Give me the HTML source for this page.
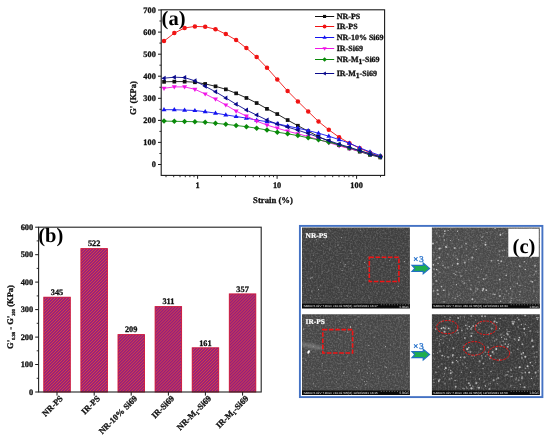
<!DOCTYPE html>
<html><head><meta charset="utf-8"><title>Figure</title>
<style>
html,body{margin:0;padding:0;background:#fff;}
body{width:550px;height:438px;overflow:hidden;}
svg{display:block;}
text{font-family:"Liberation Serif","Times New Roman",serif;font-weight:bold;fill:#111;stroke:#111;stroke-width:0.3px;text-rendering:geometricPrecision;}
.t8{font-size:8px;}
.lab{font-size:20.5px;fill:#000;stroke:none;}
</style></head><body>
<svg width="550" height="438" viewBox="0 0 550 438">
<defs>
<pattern id="hatch" width="1.5" height="1.5" patternUnits="userSpaceOnUse" patternTransform="rotate(-45)">
<rect width="1.5" height="0.75" fill="#8a00a8"/><rect y="0.75" width="1.5" height="0.75" fill="#f0452c"/>
</pattern>
<filter id="grain" x="0" y="0" width="100%" height="100%" color-interpolation-filters="sRGB">
<feTurbulence type="fractalNoise" baseFrequency="0.6" numOctaves="2" seed="3"/>
<feColorMatrix type="matrix" values="0.3 0 0 0 -0.12  0.3 0 0 0 -0.12  0.3 0 0 0 -0.12  0 0 0 0 1"/>
<feGaussianBlur stdDeviation="0.5"/>
<feComposite in2="SourceGraphic" operator="arithmetic" k1="0" k2="1" k3="1" k4="0"/>
</filter>
<filter id="soft" x="-5%" y="-5%" width="110%" height="110%"><feGaussianBlur stdDeviation="0.4"/></filter>
<filter id="soft2" x="-30%" y="-100%" width="160%" height="300%"><feGaussianBlur stdDeviation="1.3"/></filter>
</defs>
<rect width="550" height="438" fill="#fff"/>

<g id="chartA">
<rect x="161.2" y="9.8" width="223.4" height="165.6" fill="none" stroke="#1a1a1a" stroke-width="1.1"/>
<line x1="158.0" x2="161.2" y1="164.5" y2="164.5" stroke="#1a1a1a" stroke-width="1"/>
<text x="155.8" y="167.3" text-anchor="end" style="font-size:8.3px">0</text>
<line x1="159.39999999999998" x2="161.2" y1="153.5" y2="153.5" stroke="#1a1a1a" stroke-width="0.9"/>
<line x1="158.0" x2="161.2" y1="142.4" y2="142.4" stroke="#1a1a1a" stroke-width="1"/>
<text x="155.8" y="145.2" text-anchor="end" style="font-size:8.3px">100</text>
<line x1="159.39999999999998" x2="161.2" y1="131.4" y2="131.4" stroke="#1a1a1a" stroke-width="0.9"/>
<line x1="158.0" x2="161.2" y1="120.4" y2="120.4" stroke="#1a1a1a" stroke-width="1"/>
<text x="155.8" y="123.2" text-anchor="end" style="font-size:8.3px">200</text>
<line x1="159.39999999999998" x2="161.2" y1="109.3" y2="109.3" stroke="#1a1a1a" stroke-width="0.9"/>
<line x1="158.0" x2="161.2" y1="98.3" y2="98.3" stroke="#1a1a1a" stroke-width="1"/>
<text x="155.8" y="101.1" text-anchor="end" style="font-size:8.3px">300</text>
<line x1="159.39999999999998" x2="161.2" y1="87.3" y2="87.3" stroke="#1a1a1a" stroke-width="0.9"/>
<line x1="158.0" x2="161.2" y1="76.2" y2="76.2" stroke="#1a1a1a" stroke-width="1"/>
<text x="155.8" y="79.0" text-anchor="end" style="font-size:8.3px">400</text>
<line x1="159.39999999999998" x2="161.2" y1="65.2" y2="65.2" stroke="#1a1a1a" stroke-width="0.9"/>
<line x1="158.0" x2="161.2" y1="54.2" y2="54.2" stroke="#1a1a1a" stroke-width="1"/>
<text x="155.8" y="57.0" text-anchor="end" style="font-size:8.3px">500</text>
<line x1="159.39999999999998" x2="161.2" y1="43.1" y2="43.1" stroke="#1a1a1a" stroke-width="0.9"/>
<line x1="158.0" x2="161.2" y1="32.1" y2="32.1" stroke="#1a1a1a" stroke-width="1"/>
<text x="155.8" y="34.9" text-anchor="end" style="font-size:8.3px">600</text>
<line x1="159.39999999999998" x2="161.2" y1="21.0" y2="21.0" stroke="#1a1a1a" stroke-width="0.9"/>
<line x1="158.0" x2="161.2" y1="10.0" y2="10.0" stroke="#1a1a1a" stroke-width="1"/>
<text x="155.8" y="12.8" text-anchor="end" style="font-size:8.3px">700</text>
<line x1="166.0" x2="166.0" y1="175.4" y2="177.20000000000002" stroke="#1a1a1a" stroke-width="0.9"/>
<line x1="173.7" x2="173.7" y1="175.4" y2="177.20000000000002" stroke="#1a1a1a" stroke-width="0.9"/>
<line x1="180.0" x2="180.0" y1="175.4" y2="177.20000000000002" stroke="#1a1a1a" stroke-width="0.9"/>
<line x1="185.3" x2="185.3" y1="175.4" y2="177.20000000000002" stroke="#1a1a1a" stroke-width="0.9"/>
<line x1="189.9" x2="189.9" y1="175.4" y2="177.20000000000002" stroke="#1a1a1a" stroke-width="0.9"/>
<line x1="194.0" x2="194.0" y1="175.4" y2="177.20000000000002" stroke="#1a1a1a" stroke-width="0.9"/>
<line x1="197.6" x2="197.6" y1="175.4" y2="178.8" stroke="#1a1a1a" stroke-width="1"/>
<text x="197.6" y="188.0" text-anchor="middle" style="font-size:8.3px">1</text>
<line x1="221.5" x2="221.5" y1="175.4" y2="177.20000000000002" stroke="#1a1a1a" stroke-width="0.9"/>
<line x1="235.5" x2="235.5" y1="175.4" y2="177.20000000000002" stroke="#1a1a1a" stroke-width="0.9"/>
<line x1="245.5" x2="245.5" y1="175.4" y2="177.20000000000002" stroke="#1a1a1a" stroke-width="0.9"/>
<line x1="253.2" x2="253.2" y1="175.4" y2="177.20000000000002" stroke="#1a1a1a" stroke-width="0.9"/>
<line x1="259.5" x2="259.5" y1="175.4" y2="177.20000000000002" stroke="#1a1a1a" stroke-width="0.9"/>
<line x1="264.8" x2="264.8" y1="175.4" y2="177.20000000000002" stroke="#1a1a1a" stroke-width="0.9"/>
<line x1="269.4" x2="269.4" y1="175.4" y2="177.20000000000002" stroke="#1a1a1a" stroke-width="0.9"/>
<line x1="273.5" x2="273.5" y1="175.4" y2="177.20000000000002" stroke="#1a1a1a" stroke-width="0.9"/>
<line x1="277.1" x2="277.1" y1="175.4" y2="178.8" stroke="#1a1a1a" stroke-width="1"/>
<text x="277.1" y="188.0" text-anchor="middle" style="font-size:8.3px">10</text>
<line x1="301.0" x2="301.0" y1="175.4" y2="177.20000000000002" stroke="#1a1a1a" stroke-width="0.9"/>
<line x1="315.0" x2="315.0" y1="175.4" y2="177.20000000000002" stroke="#1a1a1a" stroke-width="0.9"/>
<line x1="325.0" x2="325.0" y1="175.4" y2="177.20000000000002" stroke="#1a1a1a" stroke-width="0.9"/>
<line x1="332.7" x2="332.7" y1="175.4" y2="177.20000000000002" stroke="#1a1a1a" stroke-width="0.9"/>
<line x1="339.0" x2="339.0" y1="175.4" y2="177.20000000000002" stroke="#1a1a1a" stroke-width="0.9"/>
<line x1="344.3" x2="344.3" y1="175.4" y2="177.20000000000002" stroke="#1a1a1a" stroke-width="0.9"/>
<line x1="348.9" x2="348.9" y1="175.4" y2="177.20000000000002" stroke="#1a1a1a" stroke-width="0.9"/>
<line x1="353.0" x2="353.0" y1="175.4" y2="177.20000000000002" stroke="#1a1a1a" stroke-width="0.9"/>
<line x1="356.6" x2="356.6" y1="175.4" y2="178.8" stroke="#1a1a1a" stroke-width="1"/>
<text x="356.6" y="188.0" text-anchor="middle" style="font-size:8.3px">100</text>
<line x1="380.5" x2="380.5" y1="175.4" y2="177.20000000000002" stroke="#1a1a1a" stroke-width="0.9"/>
<text x="273" y="202.9" text-anchor="middle" style="font-size:8.7px">Strain (%)</text>
<text transform="translate(136.0,98) rotate(-90)" text-anchor="middle" style="font-size:8.8px">G' (KPa)</text>
<polyline fill="none" stroke="#111" stroke-width="0.9" points="164.0,81.8 174.3,81.6 184.6,81.6 194.9,82.2 205.2,83.9 215.5,86.3 225.8,89.3 236.1,93.3 246.4,97.9 256.7,103.0 267.0,108.8 277.3,114.1 287.6,120.1 297.9,125.7 308.2,131.2 318.5,136.6 328.8,141.2 339.1,145.2 349.4,148.4 359.7,151.6 370.0,154.8 380.3,157.4"/>
<rect x="162.2" y="80.0" width="3.7" height="3.7" fill="#111"/>
<rect x="172.5" y="79.8" width="3.7" height="3.7" fill="#111"/>
<rect x="182.8" y="79.8" width="3.7" height="3.7" fill="#111"/>
<rect x="193.1" y="80.4" width="3.7" height="3.7" fill="#111"/>
<rect x="203.3" y="82.1" width="3.7" height="3.7" fill="#111"/>
<rect x="213.7" y="84.5" width="3.7" height="3.7" fill="#111"/>
<rect x="224.0" y="87.5" width="3.7" height="3.7" fill="#111"/>
<rect x="234.3" y="91.5" width="3.7" height="3.7" fill="#111"/>
<rect x="244.6" y="96.1" width="3.7" height="3.7" fill="#111"/>
<rect x="254.8" y="101.2" width="3.7" height="3.7" fill="#111"/>
<rect x="265.1" y="107.0" width="3.7" height="3.7" fill="#111"/>
<rect x="275.4" y="112.2" width="3.7" height="3.7" fill="#111"/>
<rect x="285.8" y="118.2" width="3.7" height="3.7" fill="#111"/>
<rect x="296.0" y="123.9" width="3.7" height="3.7" fill="#111"/>
<rect x="306.4" y="129.3" width="3.7" height="3.7" fill="#111"/>
<rect x="316.6" y="134.8" width="3.7" height="3.7" fill="#111"/>
<rect x="326.9" y="139.3" width="3.7" height="3.7" fill="#111"/>
<rect x="337.2" y="143.3" width="3.7" height="3.7" fill="#111"/>
<rect x="347.5" y="146.6" width="3.7" height="3.7" fill="#111"/>
<rect x="357.9" y="149.8" width="3.7" height="3.7" fill="#111"/>
<rect x="368.1" y="153.0" width="3.7" height="3.7" fill="#111"/>
<rect x="378.4" y="155.6" width="3.7" height="3.7" fill="#111"/>
<polyline fill="none" stroke="#f01414" stroke-width="0.9" points="164.0,41.1 174.3,33.1 184.6,28.0 194.9,26.4 205.2,26.8 215.5,29.2 225.8,34.1 236.1,40.1 246.4,48.1 256.7,57.1 267.0,67.8 277.3,79.5 287.6,91.0 297.9,101.4 308.2,111.5 318.5,121.5 328.8,129.8 339.1,137.2 349.4,143.2 359.7,148.2 370.0,152.7 380.3,156.5"/>
<circle cx="164.0" cy="41.1" r="2.25" fill="#f01414"/>
<circle cx="174.3" cy="33.1" r="2.25" fill="#f01414"/>
<circle cx="184.6" cy="28.0" r="2.25" fill="#f01414"/>
<circle cx="194.9" cy="26.4" r="2.25" fill="#f01414"/>
<circle cx="205.2" cy="26.8" r="2.25" fill="#f01414"/>
<circle cx="215.5" cy="29.2" r="2.25" fill="#f01414"/>
<circle cx="225.8" cy="34.1" r="2.25" fill="#f01414"/>
<circle cx="236.1" cy="40.1" r="2.25" fill="#f01414"/>
<circle cx="246.4" cy="48.1" r="2.25" fill="#f01414"/>
<circle cx="256.7" cy="57.1" r="2.25" fill="#f01414"/>
<circle cx="267.0" cy="67.8" r="2.25" fill="#f01414"/>
<circle cx="277.3" cy="79.5" r="2.25" fill="#f01414"/>
<circle cx="287.6" cy="91.0" r="2.25" fill="#f01414"/>
<circle cx="297.9" cy="101.4" r="2.25" fill="#f01414"/>
<circle cx="308.2" cy="111.5" r="2.25" fill="#f01414"/>
<circle cx="318.5" cy="121.5" r="2.25" fill="#f01414"/>
<circle cx="328.8" cy="129.8" r="2.25" fill="#f01414"/>
<circle cx="339.1" cy="137.2" r="2.25" fill="#f01414"/>
<circle cx="349.4" cy="143.2" r="2.25" fill="#f01414"/>
<circle cx="359.7" cy="148.2" r="2.25" fill="#f01414"/>
<circle cx="370.0" cy="152.7" r="2.25" fill="#f01414"/>
<circle cx="380.3" cy="156.5" r="2.25" fill="#f01414"/>
<polyline fill="none" stroke="#1414f0" stroke-width="0.9" points="164.0,109.7 174.3,109.7 184.6,110.1 194.9,110.5 205.2,111.7 215.5,113.1 225.8,114.9 236.1,116.5 246.4,118.1 256.7,120.1 267.0,121.7 277.3,123.7 287.6,126.1 297.9,128.2 308.2,130.6 318.5,133.2 328.8,136.2 339.1,139.6 349.4,143.2 359.7,147.8 370.0,151.9 380.3,155.6"/>
<polygon points="164.0,107.1 161.5,111.3 166.5,111.3" fill="#1414f0"/>
<polygon points="174.3,107.1 171.8,111.3 176.8,111.3" fill="#1414f0"/>
<polygon points="184.6,107.5 182.1,111.7 187.1,111.7" fill="#1414f0"/>
<polygon points="194.9,107.9 192.4,112.1 197.4,112.1" fill="#1414f0"/>
<polygon points="205.2,109.1 202.7,113.3 207.7,113.3" fill="#1414f0"/>
<polygon points="215.5,110.5 213.0,114.7 218.0,114.7" fill="#1414f0"/>
<polygon points="225.8,112.3 223.3,116.5 228.3,116.5" fill="#1414f0"/>
<polygon points="236.1,113.9 233.6,118.1 238.6,118.1" fill="#1414f0"/>
<polygon points="246.4,115.5 243.9,119.7 248.9,119.7" fill="#1414f0"/>
<polygon points="256.7,117.5 254.2,121.7 259.2,121.7" fill="#1414f0"/>
<polygon points="267.0,119.1 264.5,123.3 269.5,123.3" fill="#1414f0"/>
<polygon points="277.3,121.1 274.8,125.3 279.8,125.3" fill="#1414f0"/>
<polygon points="287.6,123.5 285.1,127.7 290.1,127.7" fill="#1414f0"/>
<polygon points="297.9,125.6 295.4,129.8 300.4,129.8" fill="#1414f0"/>
<polygon points="308.2,128.0 305.7,132.2 310.7,132.2" fill="#1414f0"/>
<polygon points="318.5,130.6 316.0,134.8 321.0,134.8" fill="#1414f0"/>
<polygon points="328.8,133.6 326.3,137.8 331.3,137.8" fill="#1414f0"/>
<polygon points="339.1,137.0 336.6,141.2 341.6,141.2" fill="#1414f0"/>
<polygon points="349.4,140.6 346.9,144.8 351.9,144.8" fill="#1414f0"/>
<polygon points="359.7,145.2 357.2,149.4 362.2,149.4" fill="#1414f0"/>
<polygon points="370.0,149.3 367.5,153.5 372.5,153.5" fill="#1414f0"/>
<polygon points="380.3,153.0 377.8,157.2 382.8,157.2" fill="#1414f0"/>
<polyline fill="none" stroke="#f014e6" stroke-width="0.9" points="164.0,88.3 174.3,86.9 184.6,86.9 194.9,89.3 205.2,94.0 215.5,99.2 225.8,105.0 236.1,111.1 246.4,116.1 256.7,121.1 267.0,125.1 277.3,128.2 287.6,131.2 297.9,133.8 308.2,136.6 318.5,139.6 328.8,142.6 339.1,145.8 349.4,148.6 359.7,151.2 370.0,153.9 380.3,156.8"/>
<polygon points="164.0,90.9 161.5,86.7 166.5,86.7" fill="#f014e6"/>
<polygon points="174.3,89.5 171.8,85.3 176.8,85.3" fill="#f014e6"/>
<polygon points="184.6,89.5 182.1,85.3 187.1,85.3" fill="#f014e6"/>
<polygon points="194.9,91.9 192.4,87.7 197.4,87.7" fill="#f014e6"/>
<polygon points="205.2,96.6 202.7,92.4 207.7,92.4" fill="#f014e6"/>
<polygon points="215.5,101.8 213.0,97.6 218.0,97.6" fill="#f014e6"/>
<polygon points="225.8,107.6 223.3,103.4 228.3,103.4" fill="#f014e6"/>
<polygon points="236.1,113.7 233.6,109.5 238.6,109.5" fill="#f014e6"/>
<polygon points="246.4,118.7 243.9,114.5 248.9,114.5" fill="#f014e6"/>
<polygon points="256.7,123.7 254.2,119.5 259.2,119.5" fill="#f014e6"/>
<polygon points="267.0,127.7 264.5,123.5 269.5,123.5" fill="#f014e6"/>
<polygon points="277.3,130.8 274.8,126.6 279.8,126.6" fill="#f014e6"/>
<polygon points="287.6,133.8 285.1,129.6 290.1,129.6" fill="#f014e6"/>
<polygon points="297.9,136.4 295.4,132.2 300.4,132.2" fill="#f014e6"/>
<polygon points="308.2,139.2 305.7,135.0 310.7,135.0" fill="#f014e6"/>
<polygon points="318.5,142.2 316.0,138.0 321.0,138.0" fill="#f014e6"/>
<polygon points="328.8,145.2 326.3,141.0 331.3,141.0" fill="#f014e6"/>
<polygon points="339.1,148.4 336.6,144.2 341.6,144.2" fill="#f014e6"/>
<polygon points="349.4,151.2 346.9,147.0 351.9,147.0" fill="#f014e6"/>
<polygon points="359.7,153.8 357.2,149.6 362.2,149.6" fill="#f014e6"/>
<polygon points="370.0,156.5 367.5,152.3 372.5,152.3" fill="#f014e6"/>
<polygon points="380.3,159.4 377.8,155.2 382.8,155.2" fill="#f014e6"/>
<polyline fill="none" stroke="#0a8a0a" stroke-width="0.9" points="164.0,121.1 174.3,121.3 184.6,121.5 194.9,121.7 205.2,122.3 215.5,123.3 225.8,124.3 236.1,125.5 246.4,126.7 256.7,128.2 267.0,130.0 277.3,132.2 287.6,133.8 297.9,135.6 308.2,137.8 318.5,139.8 328.8,142.2 339.1,144.8 349.4,147.8 359.7,150.8 370.0,153.9 380.3,156.8"/>
<polygon points="164.0,118.3 166.8,121.1 164.0,123.8 161.2,121.1" fill="#0a8a0a"/>
<polygon points="174.3,118.5 177.1,121.3 174.3,124.0 171.6,121.3" fill="#0a8a0a"/>
<polygon points="184.6,118.8 187.3,121.5 184.6,124.2 181.8,121.5" fill="#0a8a0a"/>
<polygon points="194.9,119.0 197.7,121.7 194.9,124.5 192.2,121.7" fill="#0a8a0a"/>
<polygon points="205.2,119.5 207.9,122.3 205.2,125.0 202.4,122.3" fill="#0a8a0a"/>
<polygon points="215.5,120.5 218.2,123.3 215.5,126.0 212.8,123.3" fill="#0a8a0a"/>
<polygon points="225.8,121.5 228.6,124.3 225.8,127.0 223.1,124.3" fill="#0a8a0a"/>
<polygon points="236.1,122.8 238.9,125.5 236.1,128.2 233.4,125.5" fill="#0a8a0a"/>
<polygon points="246.4,124.0 249.2,126.7 246.4,129.4 243.7,126.7" fill="#0a8a0a"/>
<polygon points="256.7,125.4 259.4,128.2 256.7,130.9 253.9,128.2" fill="#0a8a0a"/>
<polygon points="267.0,127.2 269.8,130.0 267.0,132.8 264.2,130.0" fill="#0a8a0a"/>
<polygon points="277.3,129.4 280.1,132.2 277.3,134.9 274.6,132.2" fill="#0a8a0a"/>
<polygon points="287.6,131.1 290.4,133.8 287.6,136.6 284.9,133.8" fill="#0a8a0a"/>
<polygon points="297.9,132.8 300.6,135.6 297.9,138.3 295.1,135.6" fill="#0a8a0a"/>
<polygon points="308.2,135.1 311.0,137.8 308.2,140.6 305.5,137.8" fill="#0a8a0a"/>
<polygon points="318.5,137.1 321.2,139.8 318.5,142.6 315.8,139.8" fill="#0a8a0a"/>
<polygon points="328.8,139.4 331.6,142.2 328.8,144.9 326.1,142.2" fill="#0a8a0a"/>
<polygon points="339.1,142.1 341.9,144.8 339.1,147.6 336.4,144.8" fill="#0a8a0a"/>
<polygon points="349.4,145.1 352.1,147.8 349.4,150.6 346.6,147.8" fill="#0a8a0a"/>
<polygon points="359.7,148.1 362.5,150.8 359.7,153.6 357.0,150.8" fill="#0a8a0a"/>
<polygon points="370.0,151.2 372.8,153.9 370.0,156.7 367.2,153.9" fill="#0a8a0a"/>
<polygon points="380.3,154.1 383.1,156.8 380.3,159.6 377.6,156.8" fill="#0a8a0a"/>
<polyline fill="none" stroke="#0a0a8c" stroke-width="0.9" points="164.0,78.2 174.3,77.2 184.6,77.6 194.9,80.8 205.2,86.3 215.5,91.8 225.8,97.9 236.1,104.2 246.4,110.1 256.7,115.1 267.0,120.1 277.3,124.1 287.6,127.1 297.9,130.2 308.2,133.6 318.5,137.2 328.8,140.6 339.1,144.2 349.4,147.2 359.7,150.6 370.0,153.9 380.3,156.8"/>
<polygon points="161.4,78.2 165.6,75.7 165.6,80.7" fill="#0a0a8c"/>
<polygon points="171.7,77.2 175.9,74.7 175.9,79.7" fill="#0a0a8c"/>
<polygon points="182.0,77.6 186.2,75.1 186.2,80.1" fill="#0a0a8c"/>
<polygon points="192.3,80.8 196.5,78.3 196.5,83.3" fill="#0a0a8c"/>
<polygon points="202.6,86.3 206.8,83.8 206.8,88.8" fill="#0a0a8c"/>
<polygon points="212.9,91.8 217.1,89.3 217.1,94.3" fill="#0a0a8c"/>
<polygon points="223.2,97.9 227.4,95.4 227.4,100.4" fill="#0a0a8c"/>
<polygon points="233.5,104.2 237.7,101.7 237.7,106.7" fill="#0a0a8c"/>
<polygon points="243.8,110.1 248.0,107.6 248.0,112.6" fill="#0a0a8c"/>
<polygon points="254.1,115.1 258.3,112.6 258.3,117.6" fill="#0a0a8c"/>
<polygon points="264.4,120.1 268.6,117.6 268.6,122.6" fill="#0a0a8c"/>
<polygon points="274.7,124.1 278.9,121.6 278.9,126.6" fill="#0a0a8c"/>
<polygon points="285.0,127.1 289.2,124.6 289.2,129.6" fill="#0a0a8c"/>
<polygon points="295.3,130.2 299.5,127.7 299.5,132.7" fill="#0a0a8c"/>
<polygon points="305.6,133.6 309.8,131.1 309.8,136.1" fill="#0a0a8c"/>
<polygon points="315.9,137.2 320.1,134.7 320.1,139.7" fill="#0a0a8c"/>
<polygon points="326.2,140.6 330.4,138.1 330.4,143.1" fill="#0a0a8c"/>
<polygon points="336.5,144.2 340.7,141.7 340.7,146.7" fill="#0a0a8c"/>
<polygon points="346.8,147.2 351.0,144.7 351.0,149.7" fill="#0a0a8c"/>
<polygon points="357.1,150.6 361.3,148.1 361.3,153.1" fill="#0a0a8c"/>
<polygon points="367.4,153.9 371.6,151.4 371.6,156.4" fill="#0a0a8c"/>
<polygon points="377.7,156.8 381.9,154.3 381.9,159.3" fill="#0a0a8c"/>
<line x1="315" x2="334.2" y1="16.5" y2="16.5" stroke="#111" stroke-width="1"/>
<rect x="323.0" y="14.9" width="3.1" height="3.1" fill="#111"/>
<text class="t8" x="336.7" y="18.8">NR-PS</text>
<line x1="315" x2="334.2" y1="26.5" y2="26.5" stroke="#f01414" stroke-width="1"/>
<circle cx="324.6" cy="26.5" r="1.91" fill="#f01414"/>
<text class="t8" x="336.7" y="28.8">IR-PS</text>
<line x1="315" x2="334.2" y1="37.5" y2="37.5" stroke="#1414f0" stroke-width="1"/>
<polygon points="324.6,35.3 322.5,38.8 326.7,38.8" fill="#1414f0"/>
<text class="t8" x="336.7" y="39.8">NR-10% Si69</text>
<line x1="315" x2="334.2" y1="48.5" y2="48.5" stroke="#f014e6" stroke-width="1"/>
<polygon points="324.6,50.7 322.5,47.2 326.7,47.2" fill="#f014e6"/>
<text class="t8" x="336.7" y="50.8">IR-Si69</text>
<line x1="315" x2="334.2" y1="59.5" y2="59.5" stroke="#0a8a0a" stroke-width="1"/>
<polygon points="324.6,57.2 326.9,59.5 324.6,61.8 322.3,59.5" fill="#0a8a0a"/>
<text class="t8" x="336.7" y="61.8">NR-M<tspan dy="2.4" font-size="7.6">1</tspan><tspan dy="-2.4">-Si69</tspan></text>
<line x1="315" x2="334.2" y1="73.5" y2="73.5" stroke="#0a0a8c" stroke-width="1"/>
<polygon points="322.4,73.5 325.9,71.4 325.9,75.6" fill="#0a0a8c"/>
<text class="t8" x="336.7" y="75.8">IR-M<tspan dy="2.4" font-size="7.6">1</tspan><tspan dy="-2.4">-Si69</tspan></text>
<text class="lab" x="161.6" y="25.2">(a)</text>
</g>
<g id="chartB">
<clipPath id="cb0"><rect x="43.8" y="297.2" width="26.5" height="94.8"/></clipPath>
<rect x="43.8" y="297.2" width="26.5" height="94.8" fill="#6200b2"/>
<path d="M-50.97 392.0L43.80 297.2M-49.47 392.0L45.30 297.2M-47.97 392.0L46.80 297.2M-46.47 392.0L48.30 297.2M-44.97 392.0L49.80 297.2M-43.47 392.0L51.30 297.2M-41.97 392.0L52.80 297.2M-40.47 392.0L54.30 297.2M-38.97 392.0L55.80 297.2M-37.47 392.0L57.30 297.2M-35.97 392.0L58.80 297.2M-34.47 392.0L60.30 297.2M-32.97 392.0L61.80 297.2M-31.47 392.0L63.30 297.2M-29.97 392.0L64.80 297.2M-28.47 392.0L66.30 297.2M-26.97 392.0L67.80 297.2M-25.47 392.0L69.30 297.2M-23.97 392.0L70.80 297.2M-22.47 392.0L72.30 297.2M-20.97 392.0L73.80 297.2M-19.47 392.0L75.30 297.2M-17.97 392.0L76.80 297.2M-16.47 392.0L78.30 297.2M-14.97 392.0L79.80 297.2M-13.47 392.0L81.30 297.2M-11.97 392.0L82.80 297.2M-10.47 392.0L84.30 297.2M-8.97 392.0L85.80 297.2M-7.47 392.0L87.30 297.2M-5.97 392.0L88.80 297.2M-4.47 392.0L90.30 297.2M-2.97 392.0L91.80 297.2M-1.47 392.0L93.30 297.2M0.03 392.0L94.80 297.2M1.53 392.0L96.30 297.2M3.03 392.0L97.80 297.2M4.53 392.0L99.30 297.2M6.03 392.0L100.80 297.2M7.53 392.0L102.30 297.2M9.03 392.0L103.80 297.2M10.53 392.0L105.30 297.2M12.03 392.0L106.80 297.2M13.53 392.0L108.30 297.2M15.03 392.0L109.80 297.2M16.53 392.0L111.30 297.2M18.03 392.0L112.80 297.2M19.53 392.0L114.30 297.2M21.03 392.0L115.80 297.2M22.53 392.0L117.30 297.2M24.03 392.0L118.80 297.2M25.53 392.0L120.30 297.2M27.03 392.0L121.80 297.2M28.53 392.0L123.30 297.2M30.03 392.0L124.80 297.2M31.53 392.0L126.30 297.2M33.03 392.0L127.80 297.2M34.53 392.0L129.30 297.2M36.03 392.0L130.80 297.2M37.53 392.0L132.30 297.2M39.03 392.0L133.80 297.2M40.53 392.0L135.30 297.2M42.03 392.0L136.80 297.2M43.53 392.0L138.30 297.2M45.03 392.0L139.80 297.2M46.53 392.0L141.30 297.2M48.03 392.0L142.80 297.2M49.53 392.0L144.30 297.2M51.03 392.0L145.80 297.2M52.53 392.0L147.30 297.2M54.03 392.0L148.80 297.2M55.53 392.0L150.30 297.2M57.03 392.0L151.80 297.2M58.53 392.0L153.30 297.2M60.03 392.0L154.80 297.2M61.53 392.0L156.30 297.2M63.03 392.0L157.80 297.2M64.53 392.0L159.30 297.2M66.03 392.0L160.80 297.2M67.53 392.0L162.30 297.2M69.03 392.0L163.80 297.2M70.53 392.0L165.30 297.2" stroke="#ff5e1c" stroke-width="0.72" fill="none" clip-path="url(#cb0)"/>
<rect x="43.8" y="297.2" width="26.5" height="94.8" fill="none" stroke="#d01838" stroke-width="0.9"/>
<text class="t8" x="57.0" y="295.0" text-anchor="middle" style="font-size:8.3px">345</text>
<line x1="57.0" x2="57.0" y1="392.0" y2="395.6" stroke="#1a1a1a" stroke-width="1"/>
<text transform="translate(63.5,399.0) rotate(-45)" text-anchor="end" style="font-size:8.6px">NR-PS</text>
<clipPath id="cb1"><rect x="80.9" y="248.6" width="26.5" height="143.4"/></clipPath>
<rect x="80.9" y="248.6" width="26.5" height="143.4" fill="#6200b2"/>
<path d="M-62.49 392.0L80.90 248.6M-60.99 392.0L82.40 248.6M-59.49 392.0L83.90 248.6M-57.99 392.0L85.40 248.6M-56.49 392.0L86.90 248.6M-54.99 392.0L88.40 248.6M-53.49 392.0L89.90 248.6M-51.99 392.0L91.40 248.6M-50.49 392.0L92.90 248.6M-48.99 392.0L94.40 248.6M-47.49 392.0L95.90 248.6M-45.99 392.0L97.40 248.6M-44.49 392.0L98.90 248.6M-42.99 392.0L100.40 248.6M-41.49 392.0L101.90 248.6M-39.99 392.0L103.40 248.6M-38.49 392.0L104.90 248.6M-36.99 392.0L106.40 248.6M-35.49 392.0L107.90 248.6M-33.99 392.0L109.40 248.6M-32.49 392.0L110.90 248.6M-30.99 392.0L112.40 248.6M-29.49 392.0L113.90 248.6M-27.99 392.0L115.40 248.6M-26.49 392.0L116.90 248.6M-24.99 392.0L118.40 248.6M-23.49 392.0L119.90 248.6M-21.99 392.0L121.40 248.6M-20.49 392.0L122.90 248.6M-18.99 392.0L124.40 248.6M-17.49 392.0L125.90 248.6M-15.99 392.0L127.40 248.6M-14.49 392.0L128.90 248.6M-12.99 392.0L130.40 248.6M-11.49 392.0L131.90 248.6M-9.99 392.0L133.40 248.6M-8.49 392.0L134.90 248.6M-6.99 392.0L136.40 248.6M-5.49 392.0L137.90 248.6M-3.99 392.0L139.40 248.6M-2.49 392.0L140.90 248.6M-0.99 392.0L142.40 248.6M0.51 392.0L143.90 248.6M2.01 392.0L145.40 248.6M3.51 392.0L146.90 248.6M5.01 392.0L148.40 248.6M6.51 392.0L149.90 248.6M8.01 392.0L151.40 248.6M9.51 392.0L152.90 248.6M11.01 392.0L154.40 248.6M12.51 392.0L155.90 248.6M14.01 392.0L157.40 248.6M15.51 392.0L158.90 248.6M17.01 392.0L160.40 248.6M18.51 392.0L161.90 248.6M20.01 392.0L163.40 248.6M21.51 392.0L164.90 248.6M23.01 392.0L166.40 248.6M24.51 392.0L167.90 248.6M26.01 392.0L169.40 248.6M27.51 392.0L170.90 248.6M29.01 392.0L172.40 248.6M30.51 392.0L173.90 248.6M32.01 392.0L175.40 248.6M33.51 392.0L176.90 248.6M35.01 392.0L178.40 248.6M36.51 392.0L179.90 248.6M38.01 392.0L181.40 248.6M39.51 392.0L182.90 248.6M41.01 392.0L184.40 248.6M42.51 392.0L185.90 248.6M44.01 392.0L187.40 248.6M45.51 392.0L188.90 248.6M47.01 392.0L190.40 248.6M48.51 392.0L191.90 248.6M50.01 392.0L193.40 248.6M51.51 392.0L194.90 248.6M53.01 392.0L196.40 248.6M54.51 392.0L197.90 248.6M56.01 392.0L199.40 248.6M57.51 392.0L200.90 248.6M59.01 392.0L202.40 248.6M60.51 392.0L203.90 248.6M62.01 392.0L205.40 248.6M63.51 392.0L206.90 248.6M65.01 392.0L208.40 248.6M66.51 392.0L209.90 248.6M68.01 392.0L211.40 248.6M69.51 392.0L212.90 248.6M71.01 392.0L214.40 248.6M72.51 392.0L215.90 248.6M74.01 392.0L217.40 248.6M75.51 392.0L218.90 248.6M77.01 392.0L220.40 248.6M78.51 392.0L221.90 248.6M80.01 392.0L223.40 248.6M81.51 392.0L224.90 248.6M83.01 392.0L226.40 248.6M84.51 392.0L227.90 248.6M86.01 392.0L229.40 248.6M87.51 392.0L230.90 248.6M89.01 392.0L232.40 248.6M90.51 392.0L233.90 248.6M92.01 392.0L235.40 248.6M93.51 392.0L236.90 248.6M95.01 392.0L238.40 248.6M96.51 392.0L239.90 248.6M98.01 392.0L241.40 248.6M99.51 392.0L242.90 248.6M101.01 392.0L244.40 248.6M102.51 392.0L245.90 248.6M104.01 392.0L247.40 248.6M105.51 392.0L248.90 248.6M107.01 392.0L250.40 248.6" stroke="#ff5e1c" stroke-width="0.72" fill="none" clip-path="url(#cb1)"/>
<rect x="80.9" y="248.6" width="26.5" height="143.4" fill="none" stroke="#d01838" stroke-width="0.9"/>
<text class="t8" x="94.2" y="246.4" text-anchor="middle" style="font-size:8.3px">522</text>
<line x1="94.2" x2="94.2" y1="392.0" y2="395.6" stroke="#1a1a1a" stroke-width="1"/>
<text transform="translate(100.7,399.0) rotate(-45)" text-anchor="end" style="font-size:8.6px">IR-PS</text>
<clipPath id="cb2"><rect x="118.0" y="334.6" width="26.5" height="57.4"/></clipPath>
<rect x="118.0" y="334.6" width="26.5" height="57.4" fill="#6200b2"/>
<path d="M60.59 392.0L118.00 334.6M62.09 392.0L119.50 334.6M63.59 392.0L121.00 334.6M65.09 392.0L122.50 334.6M66.59 392.0L124.00 334.6M68.09 392.0L125.50 334.6M69.59 392.0L127.00 334.6M71.09 392.0L128.50 334.6M72.59 392.0L130.00 334.6M74.09 392.0L131.50 334.6M75.59 392.0L133.00 334.6M77.09 392.0L134.50 334.6M78.59 392.0L136.00 334.6M80.09 392.0L137.50 334.6M81.59 392.0L139.00 334.6M83.09 392.0L140.50 334.6M84.59 392.0L142.00 334.6M86.09 392.0L143.50 334.6M87.59 392.0L145.00 334.6M89.09 392.0L146.50 334.6M90.59 392.0L148.00 334.6M92.09 392.0L149.50 334.6M93.59 392.0L151.00 334.6M95.09 392.0L152.50 334.6M96.59 392.0L154.00 334.6M98.09 392.0L155.50 334.6M99.59 392.0L157.00 334.6M101.09 392.0L158.50 334.6M102.59 392.0L160.00 334.6M104.09 392.0L161.50 334.6M105.59 392.0L163.00 334.6M107.09 392.0L164.50 334.6M108.59 392.0L166.00 334.6M110.09 392.0L167.50 334.6M111.59 392.0L169.00 334.6M113.09 392.0L170.50 334.6M114.59 392.0L172.00 334.6M116.09 392.0L173.50 334.6M117.59 392.0L175.00 334.6M119.09 392.0L176.50 334.6M120.59 392.0L178.00 334.6M122.09 392.0L179.50 334.6M123.59 392.0L181.00 334.6M125.09 392.0L182.50 334.6M126.59 392.0L184.00 334.6M128.09 392.0L185.50 334.6M129.59 392.0L187.00 334.6M131.09 392.0L188.50 334.6M132.59 392.0L190.00 334.6M134.09 392.0L191.50 334.6M135.59 392.0L193.00 334.6M137.09 392.0L194.50 334.6M138.59 392.0L196.00 334.6M140.09 392.0L197.50 334.6M141.59 392.0L199.00 334.6M143.09 392.0L200.50 334.6M144.59 392.0L202.00 334.6" stroke="#ff5e1c" stroke-width="0.72" fill="none" clip-path="url(#cb2)"/>
<rect x="118.0" y="334.6" width="26.5" height="57.4" fill="none" stroke="#d01838" stroke-width="0.9"/>
<text class="t8" x="131.2" y="332.4" text-anchor="middle" style="font-size:8.3px">209</text>
<line x1="131.2" x2="131.2" y1="392.0" y2="395.6" stroke="#1a1a1a" stroke-width="1"/>
<text transform="translate(137.8,399.0) rotate(-45)" text-anchor="end" style="font-size:8.6px">NR-10% Si69</text>
<clipPath id="cb3"><rect x="155.1" y="306.6" width="26.5" height="85.4"/></clipPath>
<rect x="155.1" y="306.6" width="26.5" height="85.4" fill="#6200b2"/>
<path d="M69.67 392.0L155.10 306.6M71.17 392.0L156.60 306.6M72.67 392.0L158.10 306.6M74.17 392.0L159.60 306.6M75.67 392.0L161.10 306.6M77.17 392.0L162.60 306.6M78.67 392.0L164.10 306.6M80.17 392.0L165.60 306.6M81.67 392.0L167.10 306.6M83.17 392.0L168.60 306.6M84.67 392.0L170.10 306.6M86.17 392.0L171.60 306.6M87.67 392.0L173.10 306.6M89.17 392.0L174.60 306.6M90.67 392.0L176.10 306.6M92.17 392.0L177.60 306.6M93.67 392.0L179.10 306.6M95.17 392.0L180.60 306.6M96.67 392.0L182.10 306.6M98.17 392.0L183.60 306.6M99.67 392.0L185.10 306.6M101.17 392.0L186.60 306.6M102.67 392.0L188.10 306.6M104.17 392.0L189.60 306.6M105.67 392.0L191.10 306.6M107.17 392.0L192.60 306.6M108.67 392.0L194.10 306.6M110.17 392.0L195.60 306.6M111.67 392.0L197.10 306.6M113.17 392.0L198.60 306.6M114.67 392.0L200.10 306.6M116.17 392.0L201.60 306.6M117.67 392.0L203.10 306.6M119.17 392.0L204.60 306.6M120.67 392.0L206.10 306.6M122.17 392.0L207.60 306.6M123.67 392.0L209.10 306.6M125.17 392.0L210.60 306.6M126.67 392.0L212.10 306.6M128.17 392.0L213.60 306.6M129.67 392.0L215.10 306.6M131.17 392.0L216.60 306.6M132.67 392.0L218.10 306.6M134.17 392.0L219.60 306.6M135.67 392.0L221.10 306.6M137.17 392.0L222.60 306.6M138.67 392.0L224.10 306.6M140.17 392.0L225.60 306.6M141.67 392.0L227.10 306.6M143.17 392.0L228.60 306.6M144.67 392.0L230.10 306.6M146.17 392.0L231.60 306.6M147.67 392.0L233.10 306.6M149.17 392.0L234.60 306.6M150.67 392.0L236.10 306.6M152.17 392.0L237.60 306.6M153.67 392.0L239.10 306.6M155.17 392.0L240.60 306.6M156.67 392.0L242.10 306.6M158.17 392.0L243.60 306.6M159.67 392.0L245.10 306.6M161.17 392.0L246.60 306.6M162.67 392.0L248.10 306.6M164.17 392.0L249.60 306.6M165.67 392.0L251.10 306.6M167.17 392.0L252.60 306.6M168.67 392.0L254.10 306.6M170.17 392.0L255.60 306.6M171.67 392.0L257.10 306.6M173.17 392.0L258.60 306.6M174.67 392.0L260.10 306.6M176.17 392.0L261.60 306.6M177.67 392.0L263.10 306.6M179.17 392.0L264.60 306.6M180.67 392.0L266.10 306.6M182.17 392.0L267.60 306.6" stroke="#ff5e1c" stroke-width="0.72" fill="none" clip-path="url(#cb3)"/>
<rect x="155.1" y="306.6" width="26.5" height="85.4" fill="none" stroke="#d01838" stroke-width="0.9"/>
<text class="t8" x="168.4" y="304.4" text-anchor="middle" style="font-size:8.3px">311</text>
<line x1="168.4" x2="168.4" y1="392.0" y2="395.6" stroke="#1a1a1a" stroke-width="1"/>
<text transform="translate(174.9,399.0) rotate(-45)" text-anchor="end" style="font-size:8.6px">IR-Si69</text>
<clipPath id="cb4"><rect x="192.2" y="347.8" width="26.5" height="44.2"/></clipPath>
<rect x="192.2" y="347.8" width="26.5" height="44.2" fill="#6200b2"/>
<path d="M147.97 392.0L192.20 347.8M149.47 392.0L193.70 347.8M150.97 392.0L195.20 347.8M152.47 392.0L196.70 347.8M153.97 392.0L198.20 347.8M155.47 392.0L199.70 347.8M156.97 392.0L201.20 347.8M158.47 392.0L202.70 347.8M159.97 392.0L204.20 347.8M161.47 392.0L205.70 347.8M162.97 392.0L207.20 347.8M164.47 392.0L208.70 347.8M165.97 392.0L210.20 347.8M167.47 392.0L211.70 347.8M168.97 392.0L213.20 347.8M170.47 392.0L214.70 347.8M171.97 392.0L216.20 347.8M173.47 392.0L217.70 347.8M174.97 392.0L219.20 347.8M176.47 392.0L220.70 347.8M177.97 392.0L222.20 347.8M179.47 392.0L223.70 347.8M180.97 392.0L225.20 347.8M182.47 392.0L226.70 347.8M183.97 392.0L228.20 347.8M185.47 392.0L229.70 347.8M186.97 392.0L231.20 347.8M188.47 392.0L232.70 347.8M189.97 392.0L234.20 347.8M191.47 392.0L235.70 347.8M192.97 392.0L237.20 347.8M194.47 392.0L238.70 347.8M195.97 392.0L240.20 347.8M197.47 392.0L241.70 347.8M198.97 392.0L243.20 347.8M200.47 392.0L244.70 347.8M201.97 392.0L246.20 347.8M203.47 392.0L247.70 347.8M204.97 392.0L249.20 347.8M206.47 392.0L250.70 347.8M207.97 392.0L252.20 347.8M209.47 392.0L253.70 347.8M210.97 392.0L255.20 347.8M212.47 392.0L256.70 347.8M213.97 392.0L258.20 347.8M215.47 392.0L259.70 347.8M216.97 392.0L261.20 347.8M218.47 392.0L262.70 347.8" stroke="#ff5e1c" stroke-width="0.72" fill="none" clip-path="url(#cb4)"/>
<rect x="192.2" y="347.8" width="26.5" height="44.2" fill="none" stroke="#d01838" stroke-width="0.9"/>
<text class="t8" x="205.4" y="345.6" text-anchor="middle" style="font-size:8.3px">161</text>
<line x1="205.4" x2="205.4" y1="392.0" y2="395.6" stroke="#1a1a1a" stroke-width="1"/>
<text transform="translate(211.9,399.0) rotate(-45)" text-anchor="end" style="font-size:8.6px">NR-M<tspan dy="1.6" font-size="5.5">1</tspan><tspan dy="-1.6">-Si69</tspan></text>
<clipPath id="cb5"><rect x="229.3" y="293.9" width="26.5" height="98.1"/></clipPath>
<rect x="229.3" y="293.9" width="26.5" height="98.1" fill="#6200b2"/>
<path d="M131.23 392.0L229.30 293.9M132.73 392.0L230.80 293.9M134.23 392.0L232.30 293.9M135.73 392.0L233.80 293.9M137.23 392.0L235.30 293.9M138.73 392.0L236.80 293.9M140.23 392.0L238.30 293.9M141.73 392.0L239.80 293.9M143.23 392.0L241.30 293.9M144.73 392.0L242.80 293.9M146.23 392.0L244.30 293.9M147.73 392.0L245.80 293.9M149.23 392.0L247.30 293.9M150.73 392.0L248.80 293.9M152.23 392.0L250.30 293.9M153.73 392.0L251.80 293.9M155.23 392.0L253.30 293.9M156.73 392.0L254.80 293.9M158.23 392.0L256.30 293.9M159.73 392.0L257.80 293.9M161.23 392.0L259.30 293.9M162.73 392.0L260.80 293.9M164.23 392.0L262.30 293.9M165.73 392.0L263.80 293.9M167.23 392.0L265.30 293.9M168.73 392.0L266.80 293.9M170.23 392.0L268.30 293.9M171.73 392.0L269.80 293.9M173.23 392.0L271.30 293.9M174.73 392.0L272.80 293.9M176.23 392.0L274.30 293.9M177.73 392.0L275.80 293.9M179.23 392.0L277.30 293.9M180.73 392.0L278.80 293.9M182.23 392.0L280.30 293.9M183.73 392.0L281.80 293.9M185.23 392.0L283.30 293.9M186.73 392.0L284.80 293.9M188.23 392.0L286.30 293.9M189.73 392.0L287.80 293.9M191.23 392.0L289.30 293.9M192.73 392.0L290.80 293.9M194.23 392.0L292.30 293.9M195.73 392.0L293.80 293.9M197.23 392.0L295.30 293.9M198.73 392.0L296.80 293.9M200.23 392.0L298.30 293.9M201.73 392.0L299.80 293.9M203.23 392.0L301.30 293.9M204.73 392.0L302.80 293.9M206.23 392.0L304.30 293.9M207.73 392.0L305.80 293.9M209.23 392.0L307.30 293.9M210.73 392.0L308.80 293.9M212.23 392.0L310.30 293.9M213.73 392.0L311.80 293.9M215.23 392.0L313.30 293.9M216.73 392.0L314.80 293.9M218.23 392.0L316.30 293.9M219.73 392.0L317.80 293.9M221.23 392.0L319.30 293.9M222.73 392.0L320.80 293.9M224.23 392.0L322.30 293.9M225.73 392.0L323.80 293.9M227.23 392.0L325.30 293.9M228.73 392.0L326.80 293.9M230.23 392.0L328.30 293.9M231.73 392.0L329.80 293.9M233.23 392.0L331.30 293.9M234.73 392.0L332.80 293.9M236.23 392.0L334.30 293.9M237.73 392.0L335.80 293.9M239.23 392.0L337.30 293.9M240.73 392.0L338.80 293.9M242.23 392.0L340.30 293.9M243.73 392.0L341.80 293.9M245.23 392.0L343.30 293.9M246.73 392.0L344.80 293.9M248.23 392.0L346.30 293.9M249.73 392.0L347.80 293.9M251.23 392.0L349.30 293.9M252.73 392.0L350.80 293.9M254.23 392.0L352.30 293.9M255.73 392.0L353.80 293.9" stroke="#ff5e1c" stroke-width="0.72" fill="none" clip-path="url(#cb5)"/>
<rect x="229.3" y="293.9" width="26.5" height="98.1" fill="none" stroke="#d01838" stroke-width="0.9"/>
<text class="t8" x="242.6" y="291.7" text-anchor="middle" style="font-size:8.3px">357</text>
<line x1="242.6" x2="242.6" y1="392.0" y2="395.6" stroke="#1a1a1a" stroke-width="1"/>
<text transform="translate(249.1,399.0) rotate(-45)" text-anchor="end" style="font-size:8.6px">IR-M<tspan dy="1.6" font-size="5.5">1</tspan><tspan dy="-1.6">-Si69</tspan></text>
<rect x="38.6" y="227.2" width="222.6" height="164.8" fill="none" stroke="#222" stroke-width="1.1"/>
<line x1="35.2" x2="38.6" y1="392.0" y2="392.0" stroke="#1a1a1a" stroke-width="1"/>
<text x="33.2" y="394.8" text-anchor="end" style="font-size:8.4px">0</text>
<line x1="36.7" x2="38.6" y1="378.3" y2="378.3" stroke="#1a1a1a" stroke-width="0.9"/>
<line x1="35.2" x2="38.6" y1="364.5" y2="364.5" stroke="#1a1a1a" stroke-width="1"/>
<text x="33.2" y="367.3" text-anchor="end" style="font-size:8.4px">100</text>
<line x1="36.7" x2="38.6" y1="350.8" y2="350.8" stroke="#1a1a1a" stroke-width="0.9"/>
<line x1="35.2" x2="38.6" y1="337.1" y2="337.1" stroke="#1a1a1a" stroke-width="1"/>
<text x="33.2" y="339.9" text-anchor="end" style="font-size:8.4px">200</text>
<line x1="36.7" x2="38.6" y1="323.3" y2="323.3" stroke="#1a1a1a" stroke-width="0.9"/>
<line x1="35.2" x2="38.6" y1="309.6" y2="309.6" stroke="#1a1a1a" stroke-width="1"/>
<text x="33.2" y="312.4" text-anchor="end" style="font-size:8.4px">300</text>
<line x1="36.7" x2="38.6" y1="295.9" y2="295.9" stroke="#1a1a1a" stroke-width="0.9"/>
<line x1="35.2" x2="38.6" y1="282.1" y2="282.1" stroke="#1a1a1a" stroke-width="1"/>
<text x="33.2" y="284.9" text-anchor="end" style="font-size:8.4px">400</text>
<line x1="36.7" x2="38.6" y1="268.4" y2="268.4" stroke="#1a1a1a" stroke-width="0.9"/>
<line x1="35.2" x2="38.6" y1="254.7" y2="254.7" stroke="#1a1a1a" stroke-width="1"/>
<text x="33.2" y="257.4" text-anchor="end" style="font-size:8.4px">500</text>
<line x1="36.7" x2="38.6" y1="240.9" y2="240.9" stroke="#1a1a1a" stroke-width="0.9"/>
<line x1="35.2" x2="38.6" y1="227.2" y2="227.2" stroke="#1a1a1a" stroke-width="1"/>
<text x="33.2" y="230.0" text-anchor="end" style="font-size:8.4px">600</text>
<text transform="translate(13,317) rotate(-90)" text-anchor="middle" style="font-size:8.5px">G'<tspan dy="1.8" font-size="4.6">0.38</tspan><tspan dy="-1.8"> - G'</tspan><tspan dy="1.8" font-size="4.6">200</tspan><tspan dy="-1.8"> (KPa)</tspan></text>
<text class="lab" x="38.2" y="242.2">(b)</text>
</g>
<g id="panelC">
<rect x="299.9" y="225.9" width="242.5" height="171.2" fill="#fff" stroke="#4472c4" stroke-width="1.9"/>
<clipPath id="ciTL"><rect x="302.0" y="227.6" width="107.9" height="80.8"/></clipPath>
<g clip-path="url(#ciTL)"><rect x="298.0" y="223.6" width="115.9" height="88.8" fill="#3f3f3f" filter="url(#grain)"/>
<g fill="#f4f4f4" filter="url(#soft)"><circle cx="337.3" cy="239.7" r="0.46" opacity="0.19"/><circle cx="359.7" cy="255.6" r="0.31" opacity="0.43"/><circle cx="307.0" cy="260.6" r="0.31" opacity="0.20"/><circle cx="348.0" cy="289.6" r="0.32" opacity="0.27"/><circle cx="369.4" cy="298.5" r="0.44" opacity="0.37"/><circle cx="406.4" cy="232.0" r="0.54" opacity="0.31"/><circle cx="318.3" cy="237.3" r="0.36" opacity="0.60"/><circle cx="322.1" cy="271.5" r="0.46" opacity="0.35"/><circle cx="361.0" cy="233.2" r="0.31" opacity="0.26"/><circle cx="375.1" cy="260.2" r="0.36" opacity="0.47"/><circle cx="351.0" cy="250.7" r="0.52" opacity="0.53"/><circle cx="328.8" cy="271.0" r="0.42" opacity="0.63"/><circle cx="380.2" cy="249.8" r="0.59" opacity="0.21"/><circle cx="347.3" cy="284.5" r="0.32" opacity="0.42"/><circle cx="307.2" cy="277.9" r="0.51" opacity="0.47"/><circle cx="395.7" cy="251.8" r="0.48" opacity="0.48"/><circle cx="364.4" cy="262.3" r="0.54" opacity="0.67"/><circle cx="353.2" cy="277.6" r="0.31" opacity="0.54"/><circle cx="371.5" cy="301.9" r="0.53" opacity="0.31"/><circle cx="343.9" cy="277.9" r="0.30" opacity="0.40"/><circle cx="320.8" cy="237.2" r="0.31" opacity="0.57"/><circle cx="316.7" cy="246.9" r="0.38" opacity="0.63"/><circle cx="311.5" cy="261.8" r="0.43" opacity="0.64"/><circle cx="389.8" cy="292.4" r="0.35" opacity="0.38"/><circle cx="341.0" cy="293.9" r="0.58" opacity="0.23"/><circle cx="321.7" cy="245.7" r="0.34" opacity="0.42"/><circle cx="365.4" cy="248.0" r="0.30" opacity="0.38"/><circle cx="342.1" cy="270.4" r="0.58" opacity="0.53"/><circle cx="357.6" cy="274.2" r="0.47" opacity="0.18"/><circle cx="398.3" cy="286.2" r="0.55" opacity="0.59"/><circle cx="344.6" cy="258.0" r="0.31" opacity="0.50"/><circle cx="309.6" cy="233.6" r="0.33" opacity="0.24"/><circle cx="339.0" cy="232.5" r="0.30" opacity="0.23"/><circle cx="313.7" cy="255.4" r="0.30" opacity="0.63"/><circle cx="368.0" cy="239.6" r="0.34" opacity="0.34"/><circle cx="341.6" cy="237.7" r="0.54" opacity="0.70"/><circle cx="352.3" cy="264.3" r="0.31" opacity="0.21"/><circle cx="339.3" cy="248.1" r="0.53" opacity="0.24"/><circle cx="305.4" cy="298.8" r="0.42" opacity="0.23"/><circle cx="360.5" cy="230.6" r="0.42" opacity="0.69"/><circle cx="394.4" cy="280.0" r="0.35" opacity="0.35"/><circle cx="320.7" cy="285.6" r="0.42" opacity="0.58"/><circle cx="337.9" cy="245.1" r="0.52" opacity="0.69"/><circle cx="393.3" cy="288.1" r="0.53" opacity="0.56"/><circle cx="327.0" cy="266.8" r="0.37" opacity="0.17"/><circle cx="306.0" cy="249.2" r="0.35" opacity="0.53"/><circle cx="404.3" cy="261.6" r="0.57" opacity="0.69"/><circle cx="404.1" cy="255.5" r="0.34" opacity="0.27"/><circle cx="323.8" cy="243.7" r="0.46" opacity="0.65"/><circle cx="392.0" cy="264.0" r="0.47" opacity="0.59"/><circle cx="312.0" cy="277.4" r="0.56" opacity="0.58"/><circle cx="382.4" cy="263.9" r="0.33" opacity="0.58"/><circle cx="338.2" cy="287.7" r="0.59" opacity="0.37"/><circle cx="345.5" cy="298.5" r="0.49" opacity="0.24"/><circle cx="316.5" cy="239.8" r="0.56" opacity="0.59"/><circle cx="318.5" cy="289.6" r="0.59" opacity="0.51"/><circle cx="340.1" cy="269.1" r="0.32" opacity="0.16"/><circle cx="405.8" cy="276.5" r="0.42" opacity="0.66"/><circle cx="348.9" cy="292.9" r="0.53" opacity="0.27"/><circle cx="329.7" cy="250.2" r="0.34" opacity="0.47"/><circle cx="330.5" cy="259.5" r="0.32" opacity="0.65"/><circle cx="340.5" cy="262.4" r="0.44" opacity="0.65"/><circle cx="347.5" cy="296.3" r="0.41" opacity="0.44"/><circle cx="358.4" cy="230.0" r="0.40" opacity="0.25"/><circle cx="303.4" cy="287.6" r="0.33" opacity="0.41"/><circle cx="379.8" cy="269.7" r="0.36" opacity="0.44"/><circle cx="361.8" cy="286.5" r="0.31" opacity="0.46"/><circle cx="329.3" cy="249.0" r="0.51" opacity="0.43"/><circle cx="362.5" cy="284.7" r="0.56" opacity="0.39"/><circle cx="367.9" cy="265.9" r="0.42" opacity="0.53"/><circle cx="350.9" cy="268.0" r="0.41" opacity="0.67"/><circle cx="377.0" cy="293.3" r="0.58" opacity="0.29"/><circle cx="362.3" cy="298.2" r="0.54" opacity="0.23"/><circle cx="315.9" cy="261.2" r="0.31" opacity="0.28"/><circle cx="310.7" cy="278.0" r="0.51" opacity="0.64"/><circle cx="319.4" cy="281.4" r="0.47" opacity="0.23"/><circle cx="396.5" cy="300.0" r="0.34" opacity="0.67"/><circle cx="345.2" cy="264.6" r="0.60" opacity="0.61"/><circle cx="320.1" cy="260.4" r="0.42" opacity="0.34"/><circle cx="323.7" cy="252.1" r="0.49" opacity="0.16"/><circle cx="361.7" cy="261.1" r="0.30" opacity="0.33"/><circle cx="369.1" cy="266.4" r="0.31" opacity="0.69"/><circle cx="386.5" cy="300.3" r="0.31" opacity="0.30"/><circle cx="307.2" cy="286.1" r="0.35" opacity="0.22"/><circle cx="347.7" cy="295.9" r="0.53" opacity="0.29"/><circle cx="318.8" cy="296.4" r="0.44" opacity="0.54"/><circle cx="312.5" cy="232.8" r="0.48" opacity="0.38"/><circle cx="310.7" cy="297.9" r="0.46" opacity="0.59"/><circle cx="311.9" cy="291.8" r="0.31" opacity="0.62"/><circle cx="351.1" cy="253.6" r="0.43" opacity="0.66"/><circle cx="331.4" cy="238.1" r="0.42" opacity="0.28"/><circle cx="314.6" cy="240.5" r="0.30" opacity="0.26"/><circle cx="336.0" cy="251.1" r="0.50" opacity="0.31"/><circle cx="356.0" cy="241.7" r="0.37" opacity="0.16"/><circle cx="329.5" cy="229.7" r="0.49" opacity="0.45"/><circle cx="323.1" cy="263.6" r="0.57" opacity="0.21"/><circle cx="389.7" cy="260.5" r="0.41" opacity="0.61"/><circle cx="344.6" cy="266.0" r="0.48" opacity="0.69"/><circle cx="339.3" cy="290.0" r="0.48" opacity="0.50"/><circle cx="345.9" cy="254.2" r="0.31" opacity="0.22"/><circle cx="310.5" cy="283.3" r="0.34" opacity="0.24"/><circle cx="311.9" cy="290.7" r="0.55" opacity="0.52"/><circle cx="332.9" cy="246.5" r="0.35" opacity="0.40"/><circle cx="319.7" cy="261.5" r="0.35" opacity="0.68"/><circle cx="406.0" cy="269.0" r="0.34" opacity="0.68"/><circle cx="335.8" cy="254.9" r="0.30" opacity="0.36"/><circle cx="353.3" cy="265.7" r="0.33" opacity="0.43"/><circle cx="303.5" cy="248.1" r="0.31" opacity="0.37"/><circle cx="307.4" cy="230.3" r="0.36" opacity="0.28"/><circle cx="365.0" cy="267.7" r="0.50" opacity="0.51"/></g>
<rect x="302.0" y="303.8" width="107.9" height="4.6" fill="#0a0a0a"/>
<text x="303.4" y="307.2" textLength="74.5" lengthAdjust="spacingAndGlyphs" style="font-family:'Liberation Sans',sans-serif;font-weight:normal;font-size:3px;fill:#e6e6e6;stroke:none">S4800 5.0kV 7.8mm x10.0k SE(M) 12/16/2021 16:17</text>
<text x="408.9" y="307.5" text-anchor="end" style="font-family:'Liberation Sans',sans-serif;font-weight:normal;font-size:2.8px;fill:#e6e6e6;stroke:none">5.00um</text>
<path d="M381.31 304.2v1.1M384.00 304.2v1.1M386.70 304.2v1.1M389.40 304.2v1.1M392.10 304.2v1.1M394.79 304.2v1.1M397.49 304.2v1.1M400.19 304.2v1.1M402.89 304.2v1.1M405.58 304.2v1.1M408.28 304.2v1.1" stroke="#dcdcdc" stroke-width="0.45" fill="none"/>
</g>
<clipPath id="ciTR"><rect x="431.9" y="227.6" width="107.9" height="80.8"/></clipPath>
<g clip-path="url(#ciTR)"><rect x="427.9" y="223.6" width="115.9" height="88.8" fill="#494949" filter="url(#grain)"/>
<g fill="#f4f4f4" filter="url(#soft)"><circle cx="508.7" cy="293.5" r="0.65" opacity="0.38"/><circle cx="537.2" cy="239.6" r="0.85" opacity="0.55"/><circle cx="437.5" cy="290.2" r="0.97" opacity="0.55"/><circle cx="510.6" cy="288.5" r="0.53" opacity="0.49"/><circle cx="486.3" cy="290.2" r="0.91" opacity="0.65"/><circle cx="494.8" cy="294.5" r="0.82" opacity="0.58"/><circle cx="457.3" cy="230.9" r="0.53" opacity="0.40"/><circle cx="444.0" cy="290.3" r="0.74" opacity="0.55"/><circle cx="499.2" cy="278.8" r="0.70" opacity="0.20"/><circle cx="517.4" cy="283.8" r="0.71" opacity="0.49"/><circle cx="502.7" cy="233.5" r="0.86" opacity="0.34"/><circle cx="440.8" cy="248.2" r="0.85" opacity="0.31"/><circle cx="511.2" cy="300.6" r="0.70" opacity="0.41"/><circle cx="483.6" cy="279.1" r="0.88" opacity="0.54"/><circle cx="501.0" cy="234.3" r="0.54" opacity="0.34"/><circle cx="511.6" cy="251.1" r="0.75" opacity="0.21"/><circle cx="439.3" cy="248.4" r="0.82" opacity="0.58"/><circle cx="504.5" cy="250.1" r="0.72" opacity="0.46"/><circle cx="482.3" cy="237.3" r="0.97" opacity="0.31"/><circle cx="536.5" cy="297.7" r="0.50" opacity="0.45"/><circle cx="519.7" cy="300.0" r="0.68" opacity="0.35"/><circle cx="455.1" cy="298.4" r="0.56" opacity="0.52"/><circle cx="447.9" cy="267.3" r="1.01" opacity="0.27"/><circle cx="519.8" cy="266.1" r="0.96" opacity="0.59"/><circle cx="457.4" cy="294.9" r="0.70" opacity="0.21"/><circle cx="433.3" cy="264.9" r="0.68" opacity="0.37"/><circle cx="447.8" cy="254.0" r="0.61" opacity="0.66"/><circle cx="433.1" cy="284.0" r="0.93" opacity="0.27"/><circle cx="531.0" cy="281.2" r="0.98" opacity="0.36"/><circle cx="472.3" cy="257.6" r="1.05" opacity="0.52"/><circle cx="471.1" cy="260.2" r="0.59" opacity="0.23"/><circle cx="443.7" cy="290.2" r="0.60" opacity="0.71"/><circle cx="459.3" cy="248.2" r="0.71" opacity="0.30"/><circle cx="472.4" cy="299.2" r="0.96" opacity="0.65"/><circle cx="499.7" cy="296.0" r="1.00" opacity="0.50"/><circle cx="509.1" cy="232.3" r="0.86" opacity="0.45"/><circle cx="512.6" cy="276.2" r="0.60" opacity="0.23"/><circle cx="531.0" cy="238.0" r="0.69" opacity="0.39"/><circle cx="464.4" cy="283.1" r="1.03" opacity="0.34"/><circle cx="502.4" cy="250.8" r="0.74" opacity="0.42"/><circle cx="450.6" cy="240.5" r="0.56" opacity="0.70"/><circle cx="485.5" cy="244.8" r="0.98" opacity="0.75"/><circle cx="480.6" cy="238.9" r="0.55" opacity="0.25"/><circle cx="469.1" cy="235.3" r="0.57" opacity="0.34"/><circle cx="493.2" cy="294.1" r="0.87" opacity="0.43"/><circle cx="476.7" cy="267.3" r="0.64" opacity="0.39"/><circle cx="439.5" cy="249.1" r="1.03" opacity="0.27"/><circle cx="486.2" cy="275.1" r="0.95" opacity="0.32"/><circle cx="461.6" cy="246.9" r="0.65" opacity="0.45"/><circle cx="533.9" cy="291.2" r="0.95" opacity="0.21"/><circle cx="436.3" cy="281.0" r="0.97" opacity="0.46"/><circle cx="495.1" cy="228.6" r="0.65" opacity="0.71"/><circle cx="520.3" cy="291.7" r="1.03" opacity="0.34"/><circle cx="444.4" cy="240.0" r="0.72" opacity="0.58"/><circle cx="532.6" cy="281.9" r="0.80" opacity="0.62"/><circle cx="481.3" cy="269.3" r="0.51" opacity="0.63"/><circle cx="457.5" cy="296.5" r="0.80" opacity="0.37"/><circle cx="446.5" cy="247.2" r="0.79" opacity="0.58"/><circle cx="444.8" cy="233.8" r="0.72" opacity="0.52"/><circle cx="474.0" cy="245.1" r="0.77" opacity="0.21"/><circle cx="464.8" cy="262.6" r="1.02" opacity="0.55"/><circle cx="526.5" cy="263.7" r="0.57" opacity="0.34"/><circle cx="534.6" cy="280.6" r="0.61" opacity="0.21"/><circle cx="485.7" cy="278.4" r="0.66" opacity="0.34"/><circle cx="503.6" cy="296.9" r="0.57" opacity="0.22"/><circle cx="468.7" cy="259.6" r="0.82" opacity="0.31"/><circle cx="517.3" cy="283.1" r="0.71" opacity="0.31"/><circle cx="535.6" cy="251.6" r="0.92" opacity="0.33"/><circle cx="456.4" cy="284.7" r="0.60" opacity="0.72"/><circle cx="485.4" cy="242.4" r="0.57" opacity="0.43"/><circle cx="503.4" cy="298.6" r="0.54" opacity="0.42"/><circle cx="455.5" cy="300.5" r="0.54" opacity="0.23"/><circle cx="439.3" cy="257.6" r="0.97" opacity="0.69"/><circle cx="510.5" cy="302.2" r="1.00" opacity="0.38"/><circle cx="452.5" cy="297.7" r="0.87" opacity="0.22"/><circle cx="503.3" cy="256.5" r="0.64" opacity="0.38"/><circle cx="450.8" cy="228.8" r="0.59" opacity="0.39"/><circle cx="534.1" cy="237.7" r="1.02" opacity="0.31"/><circle cx="470.7" cy="289.2" r="0.92" opacity="0.44"/><circle cx="438.1" cy="263.5" r="0.64" opacity="0.71"/><circle cx="453.3" cy="255.5" r="0.97" opacity="0.22"/><circle cx="476.4" cy="288.5" r="0.88" opacity="0.22"/><circle cx="436.6" cy="233.2" r="0.99" opacity="0.34"/><circle cx="512.0" cy="294.9" r="0.62" opacity="0.35"/><circle cx="534.3" cy="274.1" r="0.58" opacity="0.59"/><circle cx="466.4" cy="248.9" r="0.50" opacity="0.62"/><circle cx="530.0" cy="275.4" r="1.01" opacity="0.21"/><circle cx="457.7" cy="263.7" r="1.02" opacity="0.72"/><circle cx="473.8" cy="247.1" r="0.67" opacity="0.47"/><circle cx="531.2" cy="242.1" r="0.90" opacity="0.61"/><circle cx="520.0" cy="285.6" r="0.77" opacity="0.38"/><circle cx="466.7" cy="255.3" r="0.89" opacity="0.24"/><circle cx="453.8" cy="284.2" r="0.58" opacity="0.24"/><circle cx="436.5" cy="269.4" r="0.61" opacity="0.74"/><circle cx="526.5" cy="301.5" r="0.59" opacity="0.25"/><circle cx="443.1" cy="265.4" r="0.84" opacity="0.45"/><circle cx="457.7" cy="259.4" r="0.78" opacity="0.57"/><circle cx="512.1" cy="291.1" r="0.81" opacity="0.27"/><circle cx="521.9" cy="250.3" r="0.75" opacity="0.41"/><circle cx="511.1" cy="243.3" r="0.58" opacity="0.33"/><circle cx="449.1" cy="293.9" r="0.76" opacity="0.38"/><circle cx="474.8" cy="301.8" r="0.71" opacity="0.33"/><circle cx="518.5" cy="276.8" r="1.04" opacity="0.26"/><circle cx="483.2" cy="289.0" r="0.93" opacity="0.70"/><circle cx="437.2" cy="250.3" r="0.53" opacity="0.30"/><circle cx="535.9" cy="271.6" r="1.00" opacity="0.40"/><circle cx="524.6" cy="261.7" r="0.58" opacity="0.63"/><circle cx="533.0" cy="236.4" r="0.77" opacity="0.54"/><circle cx="455.9" cy="255.8" r="0.54" opacity="0.31"/><circle cx="459.9" cy="272.8" r="0.80" opacity="0.31"/><circle cx="434.1" cy="252.8" r="0.82" opacity="0.30"/><circle cx="466.0" cy="243.6" r="0.90" opacity="0.50"/><circle cx="439.6" cy="236.1" r="0.65" opacity="0.50"/><circle cx="500.6" cy="235.3" r="0.54" opacity="0.58"/><circle cx="476.3" cy="249.5" r="0.61" opacity="0.72"/><circle cx="466.0" cy="270.4" r="0.63" opacity="0.43"/><circle cx="524.4" cy="302.2" r="0.63" opacity="0.31"/><circle cx="510.0" cy="243.6" r="0.50" opacity="0.70"/><circle cx="477.8" cy="289.1" r="0.66" opacity="0.69"/><circle cx="481.7" cy="240.6" r="0.50" opacity="0.50"/><circle cx="500.7" cy="295.7" r="0.52" opacity="0.54"/><circle cx="472.2" cy="265.8" r="0.54" opacity="0.36"/><circle cx="488.1" cy="296.9" r="0.52" opacity="0.47"/><circle cx="518.1" cy="300.0" r="0.56" opacity="0.27"/><circle cx="532.8" cy="300.6" r="0.70" opacity="0.23"/><circle cx="531.0" cy="257.2" r="0.98" opacity="0.54"/><circle cx="520.2" cy="240.4" r="0.89" opacity="0.32"/><circle cx="475.7" cy="291.1" r="0.92" opacity="0.30"/><circle cx="456.0" cy="258.1" r="0.72" opacity="0.41"/><circle cx="445.9" cy="246.8" r="0.85" opacity="0.69"/><circle cx="437.3" cy="270.1" r="0.87" opacity="0.22"/><circle cx="521.7" cy="237.3" r="0.77" opacity="0.50"/><circle cx="499.3" cy="251.2" r="0.66" opacity="0.52"/><circle cx="478.0" cy="277.2" r="0.68" opacity="0.44"/><circle cx="435.4" cy="274.3" r="0.70" opacity="0.33"/><circle cx="513.8" cy="286.2" r="0.68" opacity="0.30"/><circle cx="483.0" cy="236.5" r="0.53" opacity="0.44"/><circle cx="442.6" cy="261.2" r="0.71" opacity="0.22"/><circle cx="500.3" cy="234.7" r="0.86" opacity="0.63"/><circle cx="487.1" cy="232.6" r="0.71" opacity="0.41"/><circle cx="533.6" cy="238.7" r="0.94" opacity="0.75"/><circle cx="510.4" cy="288.7" r="0.56" opacity="0.74"/><circle cx="485.0" cy="299.2" r="0.99" opacity="0.29"/><circle cx="516.4" cy="297.3" r="0.51" opacity="0.39"/><circle cx="513.0" cy="240.3" r="0.97" opacity="0.35"/><circle cx="519.3" cy="239.2" r="0.71" opacity="0.71"/><circle cx="455.0" cy="248.0" r="0.71" opacity="0.38"/><circle cx="436.8" cy="242.0" r="0.54" opacity="0.72"/><circle cx="504.9" cy="294.7" r="0.55" opacity="0.63"/><circle cx="445.1" cy="267.8" r="0.79" opacity="0.40"/><circle cx="525.3" cy="269.6" r="0.76" opacity="0.69"/><circle cx="444.0" cy="301.9" r="0.79" opacity="0.42"/><circle cx="517.4" cy="248.1" r="1.04" opacity="0.52"/><circle cx="471.1" cy="285.0" r="0.68" opacity="0.30"/><circle cx="511.6" cy="232.2" r="0.92" opacity="0.34"/><circle cx="500.6" cy="301.2" r="0.76" opacity="0.57"/><circle cx="466.0" cy="228.7" r="0.50" opacity="0.28"/><circle cx="498.1" cy="260.5" r="0.72" opacity="0.69"/><circle cx="446.9" cy="245.4" r="0.80" opacity="0.21"/><circle cx="433.2" cy="254.8" r="0.52" opacity="0.40"/><circle cx="456.6" cy="271.7" r="0.76" opacity="0.31"/><circle cx="499.0" cy="263.6" r="0.53" opacity="0.72"/><circle cx="458.7" cy="239.6" r="0.52" opacity="0.55"/><circle cx="525.2" cy="286.3" r="0.65" opacity="0.35"/><circle cx="434.1" cy="276.2" r="0.75" opacity="0.39"/><circle cx="501.3" cy="261.3" r="1.00" opacity="0.60"/><circle cx="459.2" cy="295.3" r="0.51" opacity="0.49"/><circle cx="475.9" cy="246.1" r="0.51" opacity="0.63"/><circle cx="434.2" cy="269.3" r="1.01" opacity="0.28"/><circle cx="454.0" cy="273.5" r="0.71" opacity="0.55"/><circle cx="519.0" cy="241.5" r="0.61" opacity="0.37"/><circle cx="438.0" cy="294.2" r="0.89" opacity="0.59"/><circle cx="433.6" cy="290.9" r="0.86" opacity="0.46"/><circle cx="511.5" cy="262.0" r="0.57" opacity="0.26"/><circle cx="457.5" cy="231.5" r="0.62" opacity="0.61"/><circle cx="506.5" cy="291.0" r="0.84" opacity="0.35"/><circle cx="491.5" cy="260.8" r="0.89" opacity="0.49"/><circle cx="461.0" cy="276.0" r="1.02" opacity="0.32"/><circle cx="526.1" cy="229.7" r="0.58" opacity="0.33"/><circle cx="511.7" cy="298.3" r="0.87" opacity="0.38"/><circle cx="526.1" cy="252.8" r="0.57" opacity="0.70"/><circle cx="499.7" cy="279.7" r="0.81" opacity="0.74"/><circle cx="482.6" cy="290.6" r="0.83" opacity="0.67"/><circle cx="479.2" cy="282.1" r="0.75" opacity="0.37"/><circle cx="455.3" cy="274.5" r="0.52" opacity="0.70"/><circle cx="448.2" cy="230.6" r="0.52" opacity="0.71"/><circle cx="469.4" cy="239.1" r="0.50" opacity="0.22"/><circle cx="506.2" cy="275.4" r="0.83" opacity="0.61"/><circle cx="439.9" cy="272.2" r="0.63" opacity="0.65"/><circle cx="519.7" cy="294.4" r="0.51" opacity="0.68"/><circle cx="529.7" cy="298.3" r="0.52" opacity="0.31"/><circle cx="444.8" cy="231.1" r="0.94" opacity="0.65"/><circle cx="500.1" cy="289.5" r="0.79" opacity="0.36"/><circle cx="443.5" cy="235.8" r="0.87" opacity="0.31"/><circle cx="466.7" cy="259.9" r="0.50" opacity="0.34"/><circle cx="462.8" cy="281.4" r="0.64" opacity="0.38"/><circle cx="535.0" cy="265.8" r="0.94" opacity="0.54"/><circle cx="436.2" cy="259.1" r="0.67" opacity="0.63"/><circle cx="469.6" cy="280.6" r="0.73" opacity="0.32"/><circle cx="524.2" cy="235.3" r="0.92" opacity="0.29"/><circle cx="433.0" cy="243.5" r="0.88" opacity="0.74"/><circle cx="433.4" cy="264.8" r="0.70" opacity="0.64"/><circle cx="452.4" cy="265.1" r="0.63" opacity="0.66"/><circle cx="460.5" cy="298.3" r="0.59" opacity="0.32"/><circle cx="507.0" cy="265.4" r="0.52" opacity="0.55"/><circle cx="441.5" cy="286.7" r="0.83" opacity="0.63"/><circle cx="499.4" cy="254.8" r="0.65" opacity="0.42"/><circle cx="527.2" cy="235.0" r="0.97" opacity="0.21"/><circle cx="454.7" cy="248.0" r="0.98" opacity="0.48"/><circle cx="473.1" cy="293.8" r="0.57" opacity="0.45"/></g>
<rect x="431.9" y="303.8" width="107.9" height="4.6" fill="#0a0a0a"/>
<text x="433.3" y="307.2" textLength="74.5" lengthAdjust="spacingAndGlyphs" style="font-family:'Liberation Sans',sans-serif;font-weight:normal;font-size:3px;fill:#e6e6e6;stroke:none">S4800 5.0kV 7.8mm x30.0k SE(M) 12/16/2021 16:34</text>
<text x="538.8" y="307.5" text-anchor="end" style="font-family:'Liberation Sans',sans-serif;font-weight:normal;font-size:2.8px;fill:#e6e6e6;stroke:none">1.00um</text>
<path d="M511.21 304.2v1.1M513.90 304.2v1.1M516.60 304.2v1.1M519.30 304.2v1.1M522.00 304.2v1.1M524.69 304.2v1.1M527.39 304.2v1.1M530.09 304.2v1.1M532.79 304.2v1.1M535.48 304.2v1.1M538.18 304.2v1.1" stroke="#dcdcdc" stroke-width="0.45" fill="none"/>
</g>
<clipPath id="ciBL"><rect x="302.0" y="314.2" width="107.9" height="80.9"/></clipPath>
<g clip-path="url(#ciBL)"><rect x="298.0" y="310.2" width="115.9" height="88.9" fill="#464646" filter="url(#grain)"/>
<g fill="#f4f4f4" filter="url(#soft)"><circle cx="359.3" cy="371.0" r="0.54" opacity="0.54"/><circle cx="339.9" cy="339.3" r="0.33" opacity="0.64"/><circle cx="373.1" cy="370.0" r="0.33" opacity="0.42"/><circle cx="384.9" cy="358.0" r="0.32" opacity="0.43"/><circle cx="396.7" cy="332.8" r="0.33" opacity="0.35"/><circle cx="377.5" cy="377.5" r="0.33" opacity="0.27"/><circle cx="329.2" cy="339.3" r="0.44" opacity="0.27"/><circle cx="337.7" cy="329.2" r="0.64" opacity="0.58"/><circle cx="313.8" cy="386.3" r="0.31" opacity="0.39"/><circle cx="407.2" cy="373.9" r="0.53" opacity="0.42"/><circle cx="323.8" cy="362.3" r="0.32" opacity="0.29"/><circle cx="344.1" cy="317.7" r="0.40" opacity="0.62"/><circle cx="376.4" cy="352.2" r="0.48" opacity="0.43"/><circle cx="318.0" cy="359.8" r="0.40" opacity="0.59"/><circle cx="399.2" cy="347.0" r="0.46" opacity="0.59"/><circle cx="347.6" cy="332.1" r="0.52" opacity="0.66"/><circle cx="385.0" cy="366.9" r="0.58" opacity="0.55"/><circle cx="370.9" cy="348.7" r="0.37" opacity="0.53"/><circle cx="313.4" cy="346.2" r="0.55" opacity="0.57"/><circle cx="369.7" cy="333.7" r="0.41" opacity="0.43"/><circle cx="368.8" cy="345.5" r="0.50" opacity="0.69"/><circle cx="322.4" cy="363.6" r="0.55" opacity="0.39"/><circle cx="354.9" cy="387.2" r="0.30" opacity="0.48"/><circle cx="320.0" cy="373.0" r="0.62" opacity="0.47"/><circle cx="313.7" cy="357.7" r="0.45" opacity="0.57"/><circle cx="357.2" cy="362.4" r="0.57" opacity="0.47"/><circle cx="346.5" cy="385.3" r="0.34" opacity="0.56"/><circle cx="344.6" cy="371.6" r="0.32" opacity="0.72"/><circle cx="340.6" cy="319.4" r="0.36" opacity="0.40"/><circle cx="304.4" cy="346.1" r="0.40" opacity="0.56"/><circle cx="340.3" cy="334.8" r="0.34" opacity="0.59"/><circle cx="402.5" cy="354.2" r="0.34" opacity="0.62"/><circle cx="344.5" cy="330.9" r="0.32" opacity="0.61"/><circle cx="388.7" cy="362.1" r="0.42" opacity="0.49"/><circle cx="326.9" cy="386.4" r="0.38" opacity="0.53"/><circle cx="389.7" cy="375.5" r="0.42" opacity="0.34"/><circle cx="361.1" cy="324.4" r="0.57" opacity="0.38"/><circle cx="393.1" cy="335.0" r="0.39" opacity="0.32"/><circle cx="348.1" cy="328.9" r="0.30" opacity="0.58"/><circle cx="332.8" cy="333.3" r="0.37" opacity="0.44"/><circle cx="348.4" cy="362.3" r="0.50" opacity="0.38"/><circle cx="401.4" cy="378.3" r="0.31" opacity="0.64"/><circle cx="398.9" cy="373.1" r="0.32" opacity="0.64"/><circle cx="370.1" cy="316.3" r="0.30" opacity="0.70"/><circle cx="372.5" cy="333.7" r="0.31" opacity="0.26"/><circle cx="327.7" cy="372.6" r="0.38" opacity="0.26"/><circle cx="398.7" cy="373.7" r="0.33" opacity="0.67"/><circle cx="367.4" cy="372.9" r="0.50" opacity="0.67"/><circle cx="386.5" cy="377.2" r="0.34" opacity="0.56"/><circle cx="359.2" cy="370.0" r="0.41" opacity="0.67"/><circle cx="361.8" cy="334.7" r="0.35" opacity="0.26"/><circle cx="355.2" cy="319.5" r="0.42" opacity="0.26"/><circle cx="355.0" cy="352.0" r="0.45" opacity="0.65"/><circle cx="303.7" cy="377.3" r="0.42" opacity="0.49"/><circle cx="373.5" cy="377.3" r="0.39" opacity="0.41"/><circle cx="404.7" cy="320.8" r="0.49" opacity="0.53"/><circle cx="306.0" cy="360.3" r="0.51" opacity="0.69"/><circle cx="338.0" cy="387.7" r="0.44" opacity="0.45"/><circle cx="398.1" cy="317.7" r="0.52" opacity="0.52"/><circle cx="338.9" cy="378.9" r="0.39" opacity="0.44"/><circle cx="358.7" cy="372.1" r="0.34" opacity="0.42"/><circle cx="347.7" cy="356.1" r="0.57" opacity="0.34"/><circle cx="390.7" cy="345.0" r="0.43" opacity="0.33"/><circle cx="356.6" cy="387.3" r="0.49" opacity="0.62"/><circle cx="338.0" cy="338.6" r="0.36" opacity="0.50"/><circle cx="370.2" cy="373.2" r="0.30" opacity="0.58"/><circle cx="396.8" cy="355.5" r="0.31" opacity="0.35"/><circle cx="303.7" cy="329.2" r="0.61" opacity="0.51"/><circle cx="372.7" cy="373.5" r="0.61" opacity="0.52"/><circle cx="368.3" cy="361.5" r="0.51" opacity="0.51"/><circle cx="375.1" cy="330.9" r="0.50" opacity="0.43"/><circle cx="383.8" cy="322.7" r="0.33" opacity="0.20"/><circle cx="385.0" cy="382.8" r="0.49" opacity="0.38"/><circle cx="390.1" cy="373.3" r="0.46" opacity="0.32"/><circle cx="335.0" cy="346.4" r="0.37" opacity="0.42"/><circle cx="371.0" cy="384.2" r="0.31" opacity="0.49"/><circle cx="307.2" cy="324.0" r="0.56" opacity="0.50"/><circle cx="400.3" cy="348.2" r="0.30" opacity="0.39"/><circle cx="365.7" cy="384.5" r="0.64" opacity="0.44"/><circle cx="346.7" cy="322.7" r="0.49" opacity="0.30"/><circle cx="319.1" cy="316.3" r="0.30" opacity="0.56"/><circle cx="315.9" cy="386.6" r="0.31" opacity="0.66"/><circle cx="316.7" cy="316.5" r="0.52" opacity="0.31"/><circle cx="380.7" cy="329.0" r="0.31" opacity="0.61"/><circle cx="378.6" cy="378.4" r="0.53" opacity="0.23"/><circle cx="369.6" cy="367.6" r="0.42" opacity="0.69"/><circle cx="329.9" cy="386.5" r="0.52" opacity="0.19"/><circle cx="304.6" cy="363.3" r="0.56" opacity="0.22"/><circle cx="335.9" cy="369.1" r="0.33" opacity="0.65"/><circle cx="354.5" cy="319.6" r="0.39" opacity="0.50"/><circle cx="349.5" cy="365.2" r="0.32" opacity="0.62"/><circle cx="341.5" cy="362.9" r="0.48" opacity="0.41"/><circle cx="343.8" cy="373.3" r="0.62" opacity="0.61"/><circle cx="363.0" cy="336.8" r="0.31" opacity="0.72"/><circle cx="377.5" cy="376.3" r="0.37" opacity="0.51"/><circle cx="406.5" cy="376.6" r="0.47" opacity="0.35"/><circle cx="348.4" cy="380.8" r="0.39" opacity="0.56"/><circle cx="366.7" cy="381.4" r="0.56" opacity="0.34"/><circle cx="303.2" cy="334.6" r="0.40" opacity="0.50"/><circle cx="389.4" cy="380.8" r="0.30" opacity="0.64"/><circle cx="389.0" cy="379.3" r="0.46" opacity="0.33"/><circle cx="393.1" cy="374.8" r="0.51" opacity="0.68"/><circle cx="339.7" cy="321.5" r="0.45" opacity="0.62"/><circle cx="324.2" cy="370.6" r="0.62" opacity="0.31"/><circle cx="367.3" cy="365.3" r="0.42" opacity="0.29"/><circle cx="330.0" cy="370.7" r="0.55" opacity="0.43"/><circle cx="312.3" cy="374.8" r="0.54" opacity="0.31"/><circle cx="364.4" cy="381.5" r="0.60" opacity="0.47"/><circle cx="353.5" cy="358.8" r="0.33" opacity="0.29"/><circle cx="322.1" cy="367.0" r="0.38" opacity="0.49"/><circle cx="345.6" cy="353.4" r="0.32" opacity="0.20"/><circle cx="408.6" cy="342.8" r="0.32" opacity="0.53"/><circle cx="386.4" cy="326.7" r="0.47" opacity="0.37"/><circle cx="358.0" cy="316.7" r="0.30" opacity="0.72"/><circle cx="394.7" cy="351.1" r="0.46" opacity="0.32"/><circle cx="385.5" cy="346.7" r="0.62" opacity="0.60"/><circle cx="389.7" cy="386.4" r="0.35" opacity="0.20"/><circle cx="324.3" cy="328.6" r="0.31" opacity="0.21"/><circle cx="362.0" cy="379.5" r="0.42" opacity="0.70"/><circle cx="399.4" cy="319.9" r="0.47" opacity="0.40"/><circle cx="315.7" cy="386.1" r="0.35" opacity="0.49"/><circle cx="370.8" cy="385.9" r="0.50" opacity="0.40"/><circle cx="350.5" cy="327.0" r="0.63" opacity="0.73"/><circle cx="326.5" cy="318.1" r="0.35" opacity="0.37"/><circle cx="398.6" cy="382.0" r="0.57" opacity="0.21"/><circle cx="386.3" cy="367.6" r="0.49" opacity="0.72"/><circle cx="308.9" cy="325.9" r="0.54" opacity="0.70"/><circle cx="374.7" cy="337.3" r="0.47" opacity="0.60"/><circle cx="314.2" cy="339.1" r="0.35" opacity="0.25"/><circle cx="354.0" cy="327.7" r="0.35" opacity="0.26"/><circle cx="374.8" cy="316.1" r="0.52" opacity="0.29"/><circle cx="306.8" cy="383.8" r="0.34" opacity="0.69"/><circle cx="394.8" cy="380.9" r="0.32" opacity="0.43"/><circle cx="313.3" cy="383.8" r="0.58" opacity="0.53"/><circle cx="350.9" cy="340.3" r="0.57" opacity="0.44"/><circle cx="369.5" cy="325.8" r="0.34" opacity="0.21"/><circle cx="378.6" cy="356.1" r="0.32" opacity="0.66"/><circle cx="331.2" cy="345.6" r="0.33" opacity="0.33"/><circle cx="391.9" cy="339.9" r="0.33" opacity="0.45"/><circle cx="336.7" cy="381.9" r="0.32" opacity="0.72"/></g>
<rect x="302.0" y="390.5" width="107.9" height="4.6" fill="#0a0a0a"/>
<text x="303.4" y="393.9" textLength="74.5" lengthAdjust="spacingAndGlyphs" style="font-family:'Liberation Sans',sans-serif;font-weight:normal;font-size:3px;fill:#e6e6e6;stroke:none">S4800 5.0kV 7.8mm x10.0k SE(M) 12/16/2021 16:15</text>
<text x="408.9" y="394.2" text-anchor="end" style="font-family:'Liberation Sans',sans-serif;font-weight:normal;font-size:2.8px;fill:#e6e6e6;stroke:none">5.00um</text>
<path d="M381.31 390.9v1.1M384.00 390.9v1.1M386.70 390.9v1.1M389.40 390.9v1.1M392.10 390.9v1.1M394.79 390.9v1.1M397.49 390.9v1.1M400.19 390.9v1.1M402.89 390.9v1.1M405.58 390.9v1.1M408.28 390.9v1.1" stroke="#dcdcdc" stroke-width="0.45" fill="none"/>
</g>
<clipPath id="ciBR"><rect x="431.9" y="314.2" width="107.9" height="80.9"/></clipPath>
<g clip-path="url(#ciBR)"><rect x="427.9" y="310.2" width="115.9" height="88.9" fill="#3a3a3a" filter="url(#grain)"/>
<g fill="#f4f4f4" filter="url(#soft)"><circle cx="438.9" cy="381.3" r="0.84" opacity="0.34"/><circle cx="483.5" cy="336.4" r="0.59" opacity="0.33"/><circle cx="471.5" cy="388.4" r="1.10" opacity="0.73"/><circle cx="443.2" cy="336.6" r="1.01" opacity="0.25"/><circle cx="509.8" cy="336.9" r="1.08" opacity="0.23"/><circle cx="518.4" cy="340.4" r="0.54" opacity="0.22"/><circle cx="521.0" cy="354.1" r="0.56" opacity="0.46"/><circle cx="529.5" cy="331.3" r="0.77" opacity="0.30"/><circle cx="452.0" cy="372.1" r="0.87" opacity="0.33"/><circle cx="441.3" cy="321.7" r="0.80" opacity="0.49"/><circle cx="461.9" cy="330.4" r="0.80" opacity="0.61"/><circle cx="518.8" cy="358.3" r="0.56" opacity="0.26"/><circle cx="510.5" cy="345.4" r="0.88" opacity="0.25"/><circle cx="518.7" cy="340.0" r="0.97" opacity="0.70"/><circle cx="485.1" cy="316.3" r="1.03" opacity="0.48"/><circle cx="525.2" cy="334.9" r="0.56" opacity="0.68"/><circle cx="471.8" cy="327.3" r="0.65" opacity="0.55"/><circle cx="433.4" cy="353.6" r="0.69" opacity="0.50"/><circle cx="445.7" cy="368.0" r="0.95" opacity="0.70"/><circle cx="466.9" cy="367.8" r="0.66" opacity="0.63"/><circle cx="439.4" cy="379.7" r="1.06" opacity="0.49"/><circle cx="487.3" cy="354.4" r="0.75" opacity="0.23"/><circle cx="535.4" cy="331.7" r="0.56" opacity="0.28"/><circle cx="459.4" cy="375.6" r="0.50" opacity="0.27"/><circle cx="506.9" cy="329.6" r="0.50" opacity="0.55"/><circle cx="493.9" cy="353.8" r="0.87" opacity="0.28"/><circle cx="525.0" cy="368.2" r="0.51" opacity="0.29"/><circle cx="485.2" cy="352.2" r="0.60" opacity="0.29"/><circle cx="475.9" cy="325.3" r="0.79" opacity="0.69"/><circle cx="448.5" cy="357.5" r="0.90" opacity="0.31"/><circle cx="520.4" cy="384.5" r="0.66" opacity="0.45"/><circle cx="521.8" cy="354.0" r="0.66" opacity="0.74"/><circle cx="515.2" cy="340.2" r="0.58" opacity="0.40"/><circle cx="479.0" cy="387.7" r="0.94" opacity="0.72"/><circle cx="519.2" cy="377.8" r="0.51" opacity="0.50"/><circle cx="534.3" cy="384.2" r="0.59" opacity="0.45"/><circle cx="499.9" cy="342.1" r="0.75" opacity="0.26"/><circle cx="478.8" cy="352.5" r="0.50" opacity="0.30"/><circle cx="535.6" cy="372.6" r="1.05" opacity="0.57"/><circle cx="518.6" cy="380.6" r="1.01" opacity="0.24"/><circle cx="500.8" cy="334.8" r="0.85" opacity="0.37"/><circle cx="490.3" cy="383.5" r="0.81" opacity="0.36"/><circle cx="488.0" cy="347.2" r="1.06" opacity="0.38"/><circle cx="465.2" cy="363.1" r="0.53" opacity="0.55"/><circle cx="534.1" cy="353.2" r="0.60" opacity="0.48"/><circle cx="489.4" cy="326.2" r="0.53" opacity="0.29"/><circle cx="464.0" cy="345.2" r="0.61" opacity="0.35"/><circle cx="442.2" cy="355.6" r="0.97" opacity="0.56"/><circle cx="493.3" cy="363.3" r="0.56" opacity="0.61"/><circle cx="481.7" cy="355.7" r="0.80" opacity="0.48"/><circle cx="465.8" cy="333.1" r="0.57" opacity="0.50"/><circle cx="473.5" cy="358.5" r="0.50" opacity="0.41"/><circle cx="524.2" cy="332.8" r="0.76" opacity="0.49"/><circle cx="463.1" cy="388.2" r="0.61" opacity="0.64"/><circle cx="449.7" cy="320.1" r="0.99" opacity="0.46"/><circle cx="439.5" cy="343.9" r="0.69" opacity="0.62"/><circle cx="444.5" cy="331.8" r="1.07" opacity="0.63"/><circle cx="449.3" cy="340.1" r="0.64" opacity="0.59"/><circle cx="498.2" cy="378.0" r="0.96" opacity="0.50"/><circle cx="511.1" cy="370.1" r="0.91" opacity="0.48"/><circle cx="516.0" cy="367.6" r="1.03" opacity="0.29"/><circle cx="525.1" cy="315.5" r="0.91" opacity="0.54"/><circle cx="485.6" cy="386.3" r="0.77" opacity="0.45"/><circle cx="515.9" cy="379.7" r="0.80" opacity="0.43"/><circle cx="480.8" cy="349.0" r="0.88" opacity="0.38"/><circle cx="474.3" cy="356.2" r="0.66" opacity="0.40"/><circle cx="516.3" cy="378.0" r="0.73" opacity="0.46"/><circle cx="452.4" cy="337.7" r="0.54" opacity="0.54"/><circle cx="494.5" cy="321.7" r="1.03" opacity="0.40"/><circle cx="522.2" cy="377.1" r="1.07" opacity="0.33"/><circle cx="478.1" cy="382.5" r="0.50" opacity="0.25"/><circle cx="492.7" cy="352.0" r="1.03" opacity="0.65"/><circle cx="489.9" cy="389.0" r="0.74" opacity="0.50"/><circle cx="505.5" cy="344.0" r="0.64" opacity="0.55"/><circle cx="470.1" cy="385.2" r="0.85" opacity="0.51"/><circle cx="443.4" cy="342.9" r="0.67" opacity="0.53"/><circle cx="493.7" cy="380.2" r="1.07" opacity="0.49"/><circle cx="479.5" cy="361.4" r="1.10" opacity="0.41"/><circle cx="489.0" cy="375.5" r="0.55" opacity="0.39"/><circle cx="536.5" cy="376.2" r="0.74" opacity="0.28"/><circle cx="527.6" cy="366.2" r="0.95" opacity="0.76"/><circle cx="527.0" cy="346.3" r="0.54" opacity="0.38"/><circle cx="487.1" cy="352.5" r="0.56" opacity="0.32"/><circle cx="499.6" cy="359.8" r="0.64" opacity="0.77"/><circle cx="500.3" cy="318.3" r="0.67" opacity="0.65"/><circle cx="465.4" cy="366.2" r="0.50" opacity="0.39"/><circle cx="522.1" cy="358.5" r="0.84" opacity="0.33"/><circle cx="485.6" cy="356.1" r="0.59" opacity="0.58"/><circle cx="489.2" cy="388.9" r="0.78" opacity="0.45"/><circle cx="445.8" cy="326.8" r="0.91" opacity="0.28"/><circle cx="443.5" cy="327.8" r="0.74" opacity="0.67"/><circle cx="497.8" cy="374.8" r="0.51" opacity="0.23"/><circle cx="514.5" cy="339.1" r="0.88" opacity="0.41"/><circle cx="450.8" cy="334.9" r="0.52" opacity="0.72"/><circle cx="494.6" cy="341.0" r="0.70" opacity="0.43"/><circle cx="438.7" cy="381.0" r="0.78" opacity="0.75"/><circle cx="479.5" cy="361.0" r="0.59" opacity="0.24"/><circle cx="531.5" cy="378.4" r="0.62" opacity="0.71"/><circle cx="519.3" cy="337.6" r="0.80" opacity="0.75"/><circle cx="485.4" cy="385.4" r="0.58" opacity="0.43"/><circle cx="509.0" cy="331.6" r="0.62" opacity="0.70"/><circle cx="484.2" cy="373.8" r="0.58" opacity="0.32"/><circle cx="470.9" cy="329.0" r="1.08" opacity="0.38"/><circle cx="492.4" cy="323.7" r="0.75" opacity="0.43"/><circle cx="475.6" cy="320.0" r="0.53" opacity="0.67"/><circle cx="470.1" cy="333.3" r="0.56" opacity="0.38"/><circle cx="458.0" cy="317.8" r="0.84" opacity="0.41"/><circle cx="449.4" cy="367.4" r="0.52" opacity="0.37"/><circle cx="521.3" cy="324.6" r="0.69" opacity="0.68"/><circle cx="518.1" cy="327.0" r="0.64" opacity="0.62"/><circle cx="472.8" cy="386.0" r="0.57" opacity="0.74"/><circle cx="486.4" cy="332.0" r="0.70" opacity="0.29"/><circle cx="507.7" cy="334.5" r="1.02" opacity="0.54"/><circle cx="471.9" cy="333.4" r="0.80" opacity="0.34"/><circle cx="525.3" cy="324.3" r="0.74" opacity="0.52"/><circle cx="461.5" cy="372.2" r="0.66" opacity="0.58"/><circle cx="493.0" cy="338.2" r="0.66" opacity="0.27"/><circle cx="451.6" cy="378.1" r="0.62" opacity="0.58"/><circle cx="444.4" cy="356.7" r="0.64" opacity="0.50"/><circle cx="464.3" cy="320.1" r="0.62" opacity="0.34"/><circle cx="446.3" cy="368.2" r="0.60" opacity="0.44"/><circle cx="529.2" cy="372.5" r="1.00" opacity="0.69"/><circle cx="446.9" cy="335.6" r="0.50" opacity="0.59"/><circle cx="503.2" cy="341.2" r="0.67" opacity="0.58"/><circle cx="507.0" cy="333.6" r="0.98" opacity="0.41"/><circle cx="499.5" cy="328.6" r="0.53" opacity="0.72"/><circle cx="510.6" cy="367.9" r="0.51" opacity="0.24"/><circle cx="450.1" cy="329.8" r="0.61" opacity="0.43"/><circle cx="437.1" cy="338.2" r="0.82" opacity="0.32"/><circle cx="521.8" cy="357.3" r="0.88" opacity="0.36"/><circle cx="479.0" cy="365.8" r="0.64" opacity="0.22"/><circle cx="521.2" cy="372.6" r="0.60" opacity="0.24"/><circle cx="523.4" cy="360.1" r="0.51" opacity="0.35"/><circle cx="444.7" cy="373.7" r="0.57" opacity="0.72"/><circle cx="512.3" cy="321.6" r="0.86" opacity="0.44"/><circle cx="512.1" cy="376.4" r="0.60" opacity="0.27"/><circle cx="533.1" cy="346.5" r="1.04" opacity="0.60"/><circle cx="511.1" cy="376.5" r="0.81" opacity="0.47"/><circle cx="438.7" cy="366.8" r="0.68" opacity="0.50"/><circle cx="531.2" cy="324.6" r="0.91" opacity="0.24"/><circle cx="507.3" cy="374.7" r="0.59" opacity="0.52"/><circle cx="535.6" cy="362.3" r="0.76" opacity="0.36"/><circle cx="439.2" cy="341.6" r="0.67" opacity="0.33"/><circle cx="465.8" cy="325.3" r="0.87" opacity="0.59"/><circle cx="458.1" cy="333.1" r="0.74" opacity="0.46"/><circle cx="532.0" cy="341.2" r="0.61" opacity="0.71"/><circle cx="447.9" cy="356.8" r="0.63" opacity="0.67"/><circle cx="491.0" cy="371.4" r="0.55" opacity="0.59"/><circle cx="496.3" cy="349.3" r="0.91" opacity="0.68"/><circle cx="445.0" cy="336.6" r="0.64" opacity="0.33"/><circle cx="439.3" cy="336.0" r="0.56" opacity="0.61"/><circle cx="480.3" cy="323.5" r="0.62" opacity="0.48"/><circle cx="471.3" cy="327.6" r="0.52" opacity="0.23"/><circle cx="538.0" cy="370.7" r="0.52" opacity="0.61"/><circle cx="536.7" cy="356.9" r="0.53" opacity="0.49"/><circle cx="478.9" cy="329.2" r="0.76" opacity="0.22"/><circle cx="530.3" cy="362.8" r="0.81" opacity="0.73"/><circle cx="502.0" cy="333.8" r="0.58" opacity="0.30"/><circle cx="435.8" cy="372.4" r="0.97" opacity="0.38"/><circle cx="452.6" cy="362.4" r="0.97" opacity="0.73"/><circle cx="450.7" cy="373.2" r="0.96" opacity="0.63"/><circle cx="467.5" cy="328.8" r="0.96" opacity="0.40"/><circle cx="471.9" cy="355.9" r="0.65" opacity="0.68"/><circle cx="458.3" cy="318.2" r="0.77" opacity="0.57"/><circle cx="519.7" cy="367.3" r="1.02" opacity="0.74"/><circle cx="485.3" cy="352.1" r="0.55" opacity="0.38"/><circle cx="494.4" cy="321.1" r="0.86" opacity="0.31"/><circle cx="479.8" cy="386.9" r="0.52" opacity="0.24"/><circle cx="479.4" cy="329.3" r="0.88" opacity="0.22"/><circle cx="521.9" cy="378.4" r="0.93" opacity="0.45"/><circle cx="462.9" cy="364.1" r="0.74" opacity="0.45"/><circle cx="468.8" cy="347.6" r="0.84" opacity="0.67"/><circle cx="528.6" cy="327.4" r="0.61" opacity="0.46"/><circle cx="492.6" cy="340.9" r="0.56" opacity="0.27"/><circle cx="467.2" cy="349.2" r="1.08" opacity="0.72"/><circle cx="524.5" cy="387.2" r="1.07" opacity="0.56"/><circle cx="518.8" cy="319.6" r="0.85" opacity="0.56"/><circle cx="464.4" cy="357.4" r="1.06" opacity="0.48"/><circle cx="501.5" cy="337.3" r="0.63" opacity="0.71"/><circle cx="435.8" cy="329.2" r="0.85" opacity="0.47"/><circle cx="441.9" cy="364.0" r="0.65" opacity="0.54"/><circle cx="477.0" cy="354.4" r="0.77" opacity="0.44"/><circle cx="445.0" cy="328.5" r="1.01" opacity="0.52"/><circle cx="444.8" cy="378.9" r="0.59" opacity="0.27"/><circle cx="489.1" cy="333.8" r="0.72" opacity="0.52"/><circle cx="456.9" cy="357.5" r="0.53" opacity="0.50"/><circle cx="495.2" cy="321.1" r="0.67" opacity="0.26"/><circle cx="479.4" cy="379.0" r="0.76" opacity="0.61"/><circle cx="513.1" cy="323.7" r="1.09" opacity="0.62"/><circle cx="443.7" cy="376.6" r="0.66" opacity="0.31"/><circle cx="534.6" cy="356.8" r="0.92" opacity="0.30"/><circle cx="515.1" cy="319.5" r="0.58" opacity="0.42"/><circle cx="434.5" cy="359.1" r="0.57" opacity="0.38"/><circle cx="507.8" cy="346.7" r="1.01" opacity="0.56"/><circle cx="525.3" cy="356.8" r="1.03" opacity="0.70"/><circle cx="450.7" cy="370.3" r="0.63" opacity="0.64"/><circle cx="505.0" cy="376.2" r="0.53" opacity="0.43"/><circle cx="511.0" cy="385.3" r="0.88" opacity="0.24"/><circle cx="496.8" cy="322.6" r="0.76" opacity="0.66"/><circle cx="444.9" cy="383.6" r="0.85" opacity="0.36"/><circle cx="453.4" cy="348.2" r="0.97" opacity="0.54"/><circle cx="444.9" cy="316.7" r="0.53" opacity="0.66"/><circle cx="452.5" cy="356.2" r="0.61" opacity="0.60"/><circle cx="473.2" cy="325.9" r="1.00" opacity="0.52"/><circle cx="505.9" cy="374.9" r="1.06" opacity="0.23"/><circle cx="469.2" cy="326.4" r="0.73" opacity="0.70"/><circle cx="517.7" cy="317.8" r="0.56" opacity="0.67"/><circle cx="504.9" cy="344.2" r="0.71" opacity="0.31"/><circle cx="522.4" cy="344.3" r="1.00" opacity="0.56"/><circle cx="440.9" cy="339.5" r="0.57" opacity="0.71"/><circle cx="495.3" cy="318.4" r="0.55" opacity="0.42"/><circle cx="482.4" cy="357.8" r="0.66" opacity="0.41"/><circle cx="433.5" cy="358.0" r="0.63" opacity="0.23"/><circle cx="481.6" cy="388.1" r="0.51" opacity="0.30"/><circle cx="504.0" cy="335.4" r="0.60" opacity="0.50"/><circle cx="460.7" cy="357.2" r="0.75" opacity="0.75"/><circle cx="538.0" cy="317.7" r="0.77" opacity="0.64"/><circle cx="525.3" cy="372.4" r="0.82" opacity="0.57"/><circle cx="471.3" cy="336.0" r="0.94" opacity="0.70"/><circle cx="532.3" cy="365.6" r="0.61" opacity="0.64"/><circle cx="511.2" cy="352.8" r="0.82" opacity="0.41"/><circle cx="491.2" cy="345.2" r="0.51" opacity="0.41"/><circle cx="467.1" cy="388.2" r="0.72" opacity="0.42"/><circle cx="458.7" cy="332.6" r="0.64" opacity="0.29"/><circle cx="433.7" cy="379.6" r="0.70" opacity="0.47"/><circle cx="493.1" cy="337.5" r="0.55" opacity="0.26"/><circle cx="464.8" cy="338.0" r="0.88" opacity="0.52"/><circle cx="532.2" cy="340.4" r="1.03" opacity="0.54"/><circle cx="441.4" cy="328.4" r="0.78" opacity="0.76"/><circle cx="470.7" cy="372.4" r="0.68" opacity="0.70"/><circle cx="440.1" cy="351.0" r="1.02" opacity="0.37"/><circle cx="460.2" cy="316.9" r="0.55" opacity="0.37"/><circle cx="507.5" cy="331.3" r="0.67" opacity="0.33"/><circle cx="496.7" cy="379.1" r="0.83" opacity="0.33"/><circle cx="510.6" cy="386.4" r="0.79" opacity="0.26"/><circle cx="518.6" cy="379.9" r="0.63" opacity="0.30"/><circle cx="452.8" cy="354.9" r="1.00" opacity="0.57"/><circle cx="530.6" cy="330.9" r="0.63" opacity="0.63"/><circle cx="501.6" cy="345.2" r="0.85" opacity="0.41"/><circle cx="439.0" cy="345.8" r="0.51" opacity="0.56"/><circle cx="468.3" cy="351.7" r="0.79" opacity="0.36"/><circle cx="482.0" cy="316.2" r="1.04" opacity="0.53"/><circle cx="537.5" cy="319.3" r="0.80" opacity="0.62"/><circle cx="467.8" cy="322.1" r="0.54" opacity="0.30"/><circle cx="514.1" cy="321.8" r="0.95" opacity="0.45"/><circle cx="489.9" cy="358.7" r="0.76" opacity="0.58"/><circle cx="496.6" cy="339.6" r="0.89" opacity="0.36"/><circle cx="508.2" cy="371.6" r="0.92" opacity="0.39"/><circle cx="514.7" cy="387.4" r="0.70" opacity="0.37"/><circle cx="488.3" cy="384.7" r="0.54" opacity="0.22"/><circle cx="483.3" cy="363.6" r="0.92" opacity="0.42"/><circle cx="537.7" cy="332.1" r="0.91" opacity="0.27"/><circle cx="435.9" cy="325.1" r="0.51" opacity="0.50"/><circle cx="491.7" cy="328.6" r="1.05" opacity="0.42"/><circle cx="448.7" cy="328.3" r="0.89" opacity="0.73"/><circle cx="450.1" cy="317.3" r="0.92" opacity="0.35"/><circle cx="536.9" cy="352.1" r="0.82" opacity="0.41"/><circle cx="517.7" cy="349.2" r="0.62" opacity="0.72"/><circle cx="444.3" cy="369.4" r="0.51" opacity="0.58"/><circle cx="475.5" cy="379.1" r="0.51" opacity="0.53"/><circle cx="476.3" cy="383.1" r="1.05" opacity="0.56"/><circle cx="456.6" cy="333.8" r="0.59" opacity="0.46"/><circle cx="457.4" cy="330.2" r="0.91" opacity="0.57"/><circle cx="464.5" cy="388.7" r="0.57" opacity="0.53"/><circle cx="449.5" cy="379.0" r="0.99" opacity="0.37"/><circle cx="512.5" cy="376.0" r="0.60" opacity="0.40"/><circle cx="484.3" cy="381.0" r="0.55" opacity="0.60"/><circle cx="496.2" cy="348.7" r="0.78" opacity="0.71"/><circle cx="455.1" cy="380.5" r="0.64" opacity="0.65"/><circle cx="524.3" cy="328.7" r="0.99" opacity="0.77"/><circle cx="464.4" cy="317.0" r="0.53" opacity="0.76"/><circle cx="433.9" cy="382.6" r="0.54" opacity="0.62"/><circle cx="443.2" cy="327.7" r="0.85" opacity="0.27"/><circle cx="468.9" cy="383.1" r="0.88" opacity="0.71"/><circle cx="536.6" cy="317.6" r="0.58" opacity="0.66"/><circle cx="505.9" cy="318.0" r="0.73" opacity="0.35"/><circle cx="478.5" cy="322.9" r="0.50" opacity="0.76"/><circle cx="466.4" cy="380.1" r="0.53" opacity="0.49"/><circle cx="447.3" cy="346.9" r="0.55" opacity="0.60"/><circle cx="448.6" cy="369.8" r="0.73" opacity="0.28"/><circle cx="470.3" cy="351.9" r="1.03" opacity="0.41"/><circle cx="455.7" cy="386.7" r="1.00" opacity="0.62"/><circle cx="461.8" cy="328.3" r="0.59" opacity="0.26"/><circle cx="437.5" cy="352.8" r="0.67" opacity="0.53"/><circle cx="471.3" cy="316.0" r="0.86" opacity="0.58"/><circle cx="490.5" cy="355.8" r="0.86" opacity="0.76"/><circle cx="525.5" cy="368.2" r="0.67" opacity="0.40"/><circle cx="477.3" cy="387.1" r="0.66" opacity="0.43"/><circle cx="476.3" cy="325.8" r="1.10" opacity="0.22"/><circle cx="497.3" cy="383.7" r="0.59" opacity="0.56"/><circle cx="472.8" cy="333.0" r="0.56" opacity="0.28"/><circle cx="522.2" cy="373.1" r="1.02" opacity="0.25"/><circle cx="506.4" cy="339.2" r="0.83" opacity="0.52"/><circle cx="466.3" cy="387.0" r="0.50" opacity="0.63"/><circle cx="523.3" cy="352.9" r="0.79" opacity="0.77"/><circle cx="457.7" cy="361.7" r="0.90" opacity="0.43"/><circle cx="508.3" cy="344.3" r="0.74" opacity="0.56"/><circle cx="504.6" cy="339.0" r="0.81" opacity="0.52"/><circle cx="456.5" cy="360.5" r="0.59" opacity="0.72"/><circle cx="483.0" cy="368.5" r="0.74" opacity="0.48"/></g>
<rect x="431.9" y="390.5" width="107.9" height="4.6" fill="#0a0a0a"/>
<text x="433.3" y="393.9" textLength="74.5" lengthAdjust="spacingAndGlyphs" style="font-family:'Liberation Sans',sans-serif;font-weight:normal;font-size:3px;fill:#e6e6e6;stroke:none">S4800 5.0kV 7.8mm x30.0k SE(M) 12/16/2021 16:56</text>
<text x="538.8" y="394.2" text-anchor="end" style="font-family:'Liberation Sans',sans-serif;font-weight:normal;font-size:2.8px;fill:#e6e6e6;stroke:none">1.00um</text>
<path d="M511.21 390.9v1.1M513.90 390.9v1.1M516.60 390.9v1.1M519.30 390.9v1.1M522.00 390.9v1.1M524.69 390.9v1.1M527.39 390.9v1.1M530.09 390.9v1.1M532.79 390.9v1.1M535.48 390.9v1.1M538.18 390.9v1.1" stroke="#dcdcdc" stroke-width="0.45" fill="none"/>
</g>
<g clip-path="url(#ciBL)"><ellipse cx="311" cy="346" rx="13" ry="2.6" fill="#9a9a9a" opacity="0.5" transform="rotate(12 311 346)" filter="url(#soft2)"/></g>
<ellipse cx="308.6" cy="352" rx="1.1" ry="1.9" fill="#fff" transform="rotate(25 308.6 352)"/>
<text x="305.6" y="237.6" style="font-size:7.4px;fill:#fff;stroke:#fff;stroke-width:0.2px">NR-PS</text>
<text x="305.6" y="324.0" style="font-size:7.4px;fill:#fff;stroke:#fff;stroke-width:0.2px">IR-PS</text>
<rect x="369.3" y="257.3" width="29.6" height="24.2" fill="none" stroke="#ee1414" stroke-width="1.6" stroke-dasharray="4.6 1.6"/>
<rect x="322.8" y="329.6" width="29.8" height="23.4" fill="none" stroke="#ee1414" stroke-width="1.6" stroke-dasharray="4.6 1.6"/>
<ellipse cx="447.3" cy="327.1" rx="10.6" ry="6.6" fill="none" stroke="#ee1414" stroke-width="1" stroke-dasharray="2.4 1.1"/>
<ellipse cx="485.7" cy="327.8" rx="10.6" ry="6.8" fill="none" stroke="#ee1414" stroke-width="1" stroke-dasharray="2.4 1.1"/>
<ellipse cx="474.1" cy="348.4" rx="10.6" ry="6.8" fill="none" stroke="#ee1414" stroke-width="1" stroke-dasharray="2.4 1.1"/>
<ellipse cx="499" cy="353.2" rx="10.6" ry="7" fill="none" stroke="#ee1414" stroke-width="1" stroke-dasharray="2.4 1.1"/>
<polygon points="412,265.4 414.8,268.4 412,271.4 423.2,271.4 423.2,273.79999999999995 429.6,268.4 423.2,263.0 423.2,265.4" fill="#1fae4e" stroke="#2272c3" stroke-width="1.15" stroke-linejoin="miter"/>
<text x="413.2" y="262.4" style="font-size:8.8px;font-weight:normal;fill:#2b74cc;stroke:#2b74cc;stroke-width:0.4px;letter-spacing:1.1px">×3</text>
<polygon points="412,351.6 414.8,354.6 412,357.6 423.2,357.6 423.2,360.0 429.6,354.6 423.2,349.20000000000005 423.2,351.6" fill="#1fae4e" stroke="#2272c3" stroke-width="1.15" stroke-linejoin="miter"/>
<text x="413.2" y="348.79999999999995" style="font-size:8.8px;font-weight:normal;fill:#2b74cc;stroke:#2b74cc;stroke-width:0.4px;letter-spacing:1.1px">×3</text>
<rect x="508.3" y="228.7" width="30.5" height="28.1" fill="#fff"/>
<text class="lab" x="512.6" y="252.8">(c)</text>
</g>
</svg></body></html>
